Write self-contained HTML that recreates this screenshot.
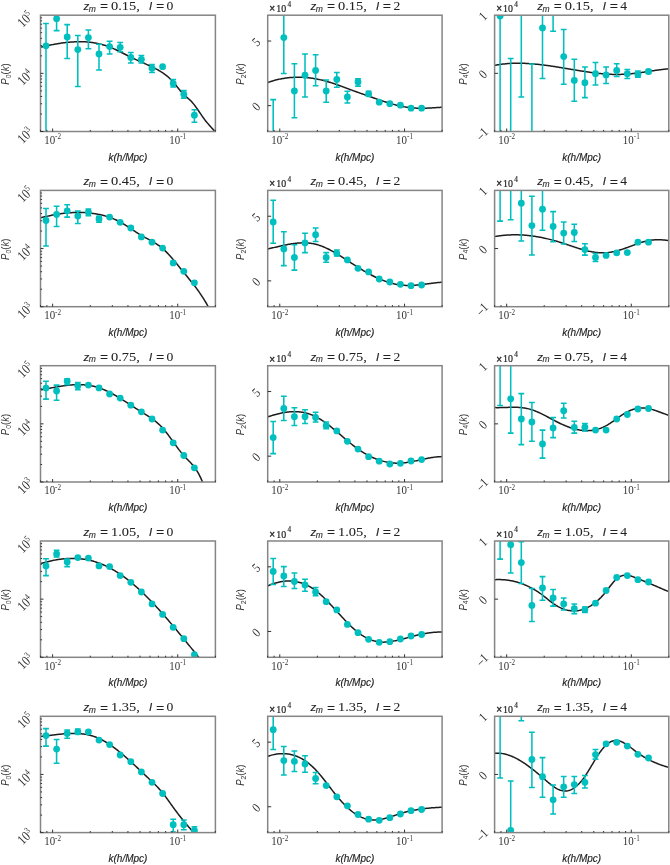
<!DOCTYPE html>
<html><head><meta charset="utf-8"><style>
html,body{margin:0;padding:0;background:#fff;width:670px;height:865px;overflow:hidden}
svg{display:block;will-change:transform;transform:translateZ(0)}
text{-webkit-font-smoothing:antialiased}
.tl{font-family:"Liberation Serif",serif;font-size:13px;fill:#333}
.sup{font-size:8.5px}
.off{font-family:"Liberation Serif",serif;font-size:10.5px;fill:#222;stroke:#222;stroke-width:0.2}
.times{font-family:"Liberation Sans",sans-serif;font-size:10px;fill:#222;stroke:#222;stroke-width:0.3}
.osup{font-family:"Liberation Serif",serif;font-size:7.3px;fill:#222;stroke:#222;stroke-width:0.15}
.tz{font-family:"Liberation Sans",sans-serif;font-style:italic;font-size:11.5px;fill:#222;stroke:#222;stroke-width:0.2}
.tm{font-family:"Liberation Sans",sans-serif;font-style:italic;font-size:8.5px;fill:#333;stroke:#333;stroke-width:0.15}
.teq{font-family:"Liberation Sans",sans-serif;font-size:12.5px;fill:#222;stroke:#222;stroke-width:0.25}
.tn{font-family:"Liberation Serif",serif;font-size:12.5px;fill:#222;stroke:#222;stroke-width:0.04}
.xl{font-family:"Liberation Sans",sans-serif;font-style:italic;font-size:10px;fill:#222;stroke:#222;stroke-width:0.15}
.yl{font-family:"Liberation Sans",sans-serif;font-style:italic;font-size:10.5px;fill:#333}
.ysub{font-size:7.5px;font-style:normal}
.yp{font-style:normal}
</style></head><body>
<svg width="670" height="865" viewBox="0 0 670 865">
<clipPath id="c00"><rect x="40.5" y="15.2" width="174.9" height="116.3"/></clipPath>
<g clip-path="url(#c00)">
<path d="M40.5 47.14 L41.5 46.92 L42.5 46.7 L43.5 46.48 L44.5 46.26 L45.5 46.04 L46.5 45.83 L47.5 45.62 L48.5 45.42 L49.5 45.21 L50.5 45.01 L51.5 44.82 L52.5 44.63 L53.5 44.44 L54.5 44.26 L55.5 44.08 L56.5 43.9 L57.5 43.73 L58.5 43.57 L59.5 43.41 L60.5 43.26 L61.5 43.11 L62.5 42.97 L63.5 42.84 L64.5 42.71 L65.5 42.59 L66.5 42.47 L67.5 42.36 L68.5 42.26 L69.5 42.17 L70.5 42.09 L71.5 42.01 L72.5 41.94 L73.5 41.88 L74.5 41.83 L75.5 41.78 L76.5 41.75 L77.5 41.72 L78.5 41.71 L79.5 41.7 L80.5 41.7 L81.5 41.72 L82.5 41.74 L83.5 41.77 L84.5 41.82 L85.5 41.87 L86.5 41.94 L87.5 42.02 L88.5 42.1 L89.5 42.2 L90.5 42.32 L91.5 42.44 L92.5 42.58 L93.5 42.73 L94.5 42.89 L95.5 43.06 L96.5 43.25 L97.5 43.45 L98.5 43.67 L99.5 43.89 L100.5 44.14 L101.5 44.39 L102.5 44.66 L103.5 44.95 L104.5 45.25 L105.5 45.56 L106.5 45.89 L107.5 46.24 L108.5 46.6 L109.5 46.98 L110.5 47.37 L111.5 47.78 L112.5 48.2 L113.5 48.64 L114.5 49.08 L115.5 49.54 L116.5 50.01 L117.5 50.49 L118.5 50.98 L119.5 51.47 L120.5 51.97 L121.5 52.48 L122.5 52.98 L123.5 53.49 L124.5 54 L125.5 54.51 L126.5 55.02 L127.5 55.53 L128.5 56.03 L129.5 56.53 L130.5 57.03 L131.5 57.51 L132.5 57.99 L133.5 58.47 L134.5 58.94 L135.5 59.4 L136.5 59.86 L137.5 60.32 L138.5 60.77 L139.5 61.22 L140.5 61.67 L141.5 62.12 L142.5 62.57 L143.5 63.02 L144.5 63.47 L145.5 63.92 L146.5 64.37 L147.5 64.83 L148.5 65.29 L149.5 65.75 L150.5 66.21 L151.5 66.69 L152.5 67.16 L153.5 67.64 L154.5 68.14 L155.5 68.64 L156.5 69.15 L157.5 69.68 L158.5 70.23 L159.5 70.8 L160.5 71.4 L161.5 72.02 L162.5 72.67 L163.5 73.35 L164.5 74.06 L165.5 74.81 L166.5 75.59 L167.5 76.42 L168.5 77.29 L169.5 78.21 L170.5 79.18 L171.5 80.2 L172.5 81.27 L173.5 82.39 L174.5 83.57 L175.5 84.78 L176.5 86.02 L177.5 87.26 L178.5 88.51 L179.5 89.74 L180.5 90.94 L181.5 92.09 L182.5 93.2 L183.5 94.23 L184.5 95.2 L185.5 96.11 L186.5 96.98 L187.5 97.84 L188.5 98.71 L189.5 99.61 L190.5 100.55 L191.5 101.57 L192.5 102.68 L193.5 103.87 L194.5 105.15 L195.5 106.48 L196.5 107.87 L197.5 109.3 L198.5 110.76 L199.5 112.23 L200.5 113.7 L201.5 115.17 L202.5 116.61 L203.5 118.01 L204.5 119.37 L205.5 120.67 L206.5 121.93 L207.5 123.14 L208.5 124.31 L209.5 125.46 L210.5 126.58 L211.5 127.68 L212.5 128.78 L213.5 129.87 L214.5 130.97 L215.5 132.07 L216.5 133.19 L217.5 134.34 L218.5 135.51 L219.5 136.72 L220.5 137.97 L221.5 139.28 L222 139.95" fill="none" stroke="#1c1c1c" stroke-width="1.5" stroke-linejoin="round"/>
<path d="M46 23.4 V140 M43.1 23.4 h5.8 M43.1 140 h5.8 M56.6 0 V30.6 M53.7 0 h5.8 M53.7 30.6 h5.8 M67.2 24.6 V58.5 M64.3 24.6 h5.8 M64.3 58.5 h5.8 M77.8 35.4 V86.4 M74.9 35.4 h5.8 M74.9 86.4 h5.8 M88.4 29.9 V48.8 M85.5 29.9 h5.8 M85.5 48.8 h5.8 M99 44.3 V70 M96.1 44.3 h5.8 M96.1 70 h5.8 M109.6 41.3 V54 M106.7 41.3 h5.8 M106.7 54 h5.8 M120.2 42.5 V51.8 M117.3 42.5 h5.8 M117.3 51.8 h5.8 M130.8 52.5 V63 M127.9 52.5 h5.8 M127.9 63 h5.8 M141.4 55.5 V63 M138.5 55.5 h5.8 M138.5 63 h5.8 M152 64.5 V72.4 M149.1 64.5 h5.8 M149.1 72.4 h5.8 M173.2 79.4 V86.9 M170.3 79.4 h5.8 M170.3 86.9 h5.8 M183.8 90.6 V98.1 M180.9 90.6 h5.8 M180.9 98.1 h5.8 M194.4 109.7 V122.2 M191.5 109.7 h5.8 M191.5 122.2 h5.8" stroke="#00bfbf" stroke-width="1.55" fill="none"/>
<g fill="#00bfbf"><circle cx="46" cy="45.8" r="3.4"/><circle cx="56.6" cy="18.7" r="3.4"/><circle cx="67.2" cy="36.9" r="3.4"/><circle cx="77.8" cy="49.6" r="3.4"/><circle cx="88.4" cy="37.6" r="3.4"/><circle cx="99" cy="54" r="3.4"/><circle cx="109.6" cy="46.6" r="3.4"/><circle cx="120.2" cy="47.3" r="3.4"/><circle cx="130.8" cy="57.5" r="3.4"/><circle cx="141.4" cy="59.3" r="3.4"/><circle cx="152" cy="68.2" r="3.4"/><circle cx="162.6" cy="66.7" r="3.4"/><circle cx="173.2" cy="83.4" r="3.4"/><circle cx="183.8" cy="94.3" r="3.4"/><circle cx="194.4" cy="115.2" r="3.4"/></g>
</g>
<rect x="40.5" y="15.2" width="174.9" height="116.3" fill="none" stroke="#858585" stroke-width="1.5"/>
<path d="M40.5 131.5 v-1.6 M46.9 131.5 v-1.6 M52.62 131.5 v-3 M90.29 131.5 v-1.6 M112.32 131.5 v-1.6 M127.95 131.5 v-1.6 M140.07 131.5 v-1.6 M149.98 131.5 v-1.6 M158.36 131.5 v-1.6 M165.61 131.5 v-1.6 M172.01 131.5 v-1.6 M177.74 131.5 v-3 M215.4 131.5 v-1.6 M40.5 131.5 h3 M40.5 114 h1.6 M40.5 103.76 h1.6 M40.5 96.49 h1.6 M40.5 90.85 h1.6 M40.5 86.25 h1.6 M40.5 82.36 h1.6 M40.5 78.99 h1.6 M40.5 76.01 h1.6 M40.5 73.35 h3 M40.5 55.85 h1.6 M40.5 45.61 h1.6 M40.5 38.34 h1.6 M40.5 32.7 h1.6 M40.5 28.1 h1.6 M40.5 24.21 h1.6 M40.5 20.84 h1.6 M40.5 17.86 h1.6" stroke="#333" stroke-width="1" fill="none"/>
<g transform="translate(52.62 143.9) scale(0.84 1)"><text class="tl" x="0" y="0" text-anchor="middle">10<tspan class="sup" dy="-4.5">-2</tspan></text></g>
<g transform="translate(177.74 143.9) scale(0.84 1)"><text class="tl" x="0" y="0" text-anchor="middle">10<tspan class="sup" dy="-4.5">-1</tspan></text></g>
<g transform="translate(25.7 19.8) rotate(-45) scale(0.9 1.06)"><text class="tl" x="0" y="3.5" text-anchor="middle">10<tspan class="sup" dy="-4.5">5</tspan></text></g>
<g transform="translate(25.7 77.95) rotate(-45) scale(0.9 1.06)"><text class="tl" x="0" y="3.5" text-anchor="middle">10<tspan class="sup" dy="-4.5">4</tspan></text></g>
<g transform="translate(25.7 136.1) rotate(-45) scale(0.9 1.06)"><text class="tl" x="0" y="3.5" text-anchor="middle">10<tspan class="sup" dy="-4.5">3</tspan></text></g>
<text class="tz" x="83.55" y="10">z</text>
<text class="tm" x="88.85" y="11.8">m</text>
<text class="teq" x="100.35" y="10.4" textLength="7.6" lengthAdjust="spacingAndGlyphs">=</text>
<text class="tn" x="111.05" y="10" textLength="28.8" lengthAdjust="spacingAndGlyphs">0.15,</text>
<text class="tz" x="149.25" y="10">l</text>
<text class="teq" x="156.15" y="10.4" textLength="7.8" lengthAdjust="spacingAndGlyphs">=</text>
<text class="tn" x="166.55" y="10" textLength="6.8" lengthAdjust="spacingAndGlyphs">0</text>
<text class="xl" x="127.95" y="160.5" text-anchor="middle">k(h/Mpc)</text>
<g transform="translate(9 74.05) rotate(-90)"><text class="yl" x="-10.7" y="0" textLength="21.4" lengthAdjust="spacingAndGlyphs">P<tspan class="ysub" dy="1.8">0</tspan><tspan class="yp" dy="-1.8">(</tspan>k<tspan class="yp">)</tspan></text></g>
<clipPath id="c01"><rect x="267.7" y="15.2" width="174.4" height="116.3"/></clipPath>
<g clip-path="url(#c01)">
<path d="M267.7 82.55 L268.7 82.2 L269.7 81.85 L270.7 81.53 L271.7 81.21 L272.7 80.91 L273.7 80.62 L274.7 80.34 L275.7 80.07 L276.7 79.82 L277.7 79.58 L278.7 79.35 L279.7 79.13 L280.7 78.93 L281.7 78.74 L282.7 78.56 L283.7 78.39 L284.7 78.23 L285.7 78.09 L286.7 77.95 L287.7 77.83 L288.7 77.72 L289.7 77.62 L290.7 77.53 L291.7 77.46 L292.7 77.39 L293.7 77.34 L294.7 77.29 L295.7 77.26 L296.7 77.24 L297.7 77.23 L298.7 77.23 L299.7 77.25 L300.7 77.27 L301.7 77.3 L302.7 77.34 L303.7 77.4 L304.7 77.46 L305.7 77.54 L306.7 77.62 L307.7 77.72 L308.7 77.83 L309.7 77.94 L310.7 78.07 L311.7 78.2 L312.7 78.35 L313.7 78.5 L314.7 78.67 L315.7 78.84 L316.7 79.03 L317.7 79.22 L318.7 79.43 L319.7 79.64 L320.7 79.86 L321.7 80.1 L322.7 80.34 L323.7 80.59 L324.7 80.85 L325.7 81.11 L326.7 81.39 L327.7 81.68 L328.7 81.97 L329.7 82.28 L330.7 82.59 L331.7 82.91 L332.7 83.23 L333.7 83.56 L334.7 83.9 L335.7 84.25 L336.7 84.59 L337.7 84.95 L338.7 85.31 L339.7 85.67 L340.7 86.03 L341.7 86.4 L342.7 86.77 L343.7 87.14 L344.7 87.51 L345.7 87.88 L346.7 88.26 L347.7 88.63 L348.7 89 L349.7 89.38 L350.7 89.75 L351.7 90.12 L352.7 90.48 L353.7 90.85 L354.7 91.21 L355.7 91.57 L356.7 91.93 L357.7 92.28 L358.7 92.64 L359.7 92.99 L360.7 93.35 L361.7 93.7 L362.7 94.05 L363.7 94.41 L364.7 94.76 L365.7 95.11 L366.7 95.46 L367.7 95.82 L368.7 96.17 L369.7 96.52 L370.7 96.88 L371.7 97.23 L372.7 97.58 L373.7 97.94 L374.7 98.29 L375.7 98.64 L376.7 98.99 L377.7 99.34 L378.7 99.68 L379.7 100.02 L380.7 100.36 L381.7 100.7 L382.7 101.03 L383.7 101.36 L384.7 101.69 L385.7 102.01 L386.7 102.32 L387.7 102.63 L388.7 102.94 L389.7 103.24 L390.7 103.53 L391.7 103.82 L392.7 104.1 L393.7 104.38 L394.7 104.65 L395.7 104.91 L396.7 105.16 L397.7 105.41 L398.7 105.64 L399.7 105.87 L400.7 106.09 L401.7 106.3 L402.7 106.5 L403.7 106.69 L404.7 106.87 L405.7 107.04 L406.7 107.19 L407.7 107.34 L408.7 107.48 L409.7 107.6 L410.7 107.71 L411.7 107.81 L412.7 107.9 L413.7 107.98 L414.7 108.04 L415.7 108.1 L416.7 108.14 L417.7 108.18 L418.7 108.2 L419.7 108.22 L420.7 108.23 L421.7 108.23 L422.7 108.22 L423.7 108.21 L424.7 108.19 L425.7 108.16 L426.7 108.13 L427.7 108.09 L428.7 108.05 L429.7 108 L430.7 107.95 L431.7 107.9 L432.7 107.84 L433.7 107.78 L434.7 107.72 L435.7 107.66 L436.7 107.59 L437.7 107.53 L438.7 107.46 L439.7 107.39 L440.7 107.33 L441.7 107.26 L442.7 107.2 L443.7 107.14 L444.7 107.08 L445.7 107.02 L446.7 106.97 L447.7 106.92 L448.7 106.87 L449.7 106.83 L450 106.82" fill="none" stroke="#1c1c1c" stroke-width="1.5" stroke-linejoin="round"/>
<path d="M273.2 99.6 V200 M270.3 99.6 h5.8 M270.3 200 h5.8 M283.8 0 V73.4 M280.9 0 h5.8 M280.9 73.4 h5.8 M294.4 63.7 V117.8 M291.5 63.7 h5.8 M291.5 117.8 h5.8 M305 54 V96.9 M302.1 54 h5.8 M302.1 96.9 h5.8 M315.6 54.8 V85.8 M312.7 54.8 h5.8 M312.7 85.8 h5.8 M326.2 79.9 V102.2 M323.3 79.9 h5.8 M323.3 102.2 h5.8 M336.8 72.4 V87.3 M333.9 72.4 h5.8 M333.9 87.3 h5.8 M347.4 91.3 V103 M344.5 91.3 h5.8 M344.5 103 h5.8 M358 78.7 V86.1 M355.1 78.7 h5.8 M355.1 86.1 h5.8 M368.6 91.3 V96.3 M365.7 91.3 h5.8 M365.7 96.3 h5.8" stroke="#00bfbf" stroke-width="1.55" fill="none"/>
<g fill="#00bfbf"><circle cx="273.2" cy="140" r="3.4"/><circle cx="283.8" cy="37.6" r="3.4"/><circle cx="294.4" cy="90.9" r="3.4"/><circle cx="305" cy="75.2" r="3.4"/><circle cx="315.6" cy="70.4" r="3.4"/><circle cx="326.2" cy="91" r="3.4"/><circle cx="336.8" cy="79.4" r="3.4"/><circle cx="347.4" cy="97" r="3.4"/><circle cx="358" cy="81.9" r="3.4"/><circle cx="368.6" cy="93.9" r="3.4"/><circle cx="379.2" cy="102.2" r="3.4"/><circle cx="389.8" cy="103.7" r="3.4"/><circle cx="400.4" cy="105.2" r="3.4"/><circle cx="411" cy="108.2" r="3.4"/><circle cx="421.6" cy="108.2" r="3.4"/></g>
</g>
<rect x="267.7" y="15.2" width="174.4" height="116.3" fill="none" stroke="#858585" stroke-width="1.5"/>
<path d="M267.7 131.5 v-1.6 M274.08 131.5 v-1.6 M279.79 131.5 v-3 M317.35 131.5 v-1.6 M339.31 131.5 v-1.6 M354.9 131.5 v-1.6 M366.99 131.5 v-1.6 M376.87 131.5 v-1.6 M385.22 131.5 v-1.6 M392.45 131.5 v-1.6 M398.84 131.5 v-1.6 M404.55 131.5 v-3 M442.1 131.5 v-1.6 M267.7 105.66 h3.5 M267.7 41.04 h3.5" stroke="#333" stroke-width="1" fill="none"/>
<g transform="translate(279.79 143.9) scale(0.84 1)"><text class="tl" x="0" y="0" text-anchor="middle">10<tspan class="sup" dy="-4.5">-2</tspan></text></g>
<g transform="translate(404.55 143.9) scale(0.84 1)"><text class="tl" x="0" y="0" text-anchor="middle">10<tspan class="sup" dy="-4.5">-1</tspan></text></g>
<g transform="translate(256.7 107.16) rotate(-45) scale(0.85 1)"><text class="tl" x="0" y="3.5" text-anchor="middle">0</text></g>
<g transform="translate(256.7 42.54) rotate(-45) scale(0.85 1)"><text class="tl" x="0" y="3.5" text-anchor="middle">5</text></g>
<text class="times" x="269.3" y="12.1">&#215;</text><text class="off" x="276.2" y="11.7" textLength="9.9" lengthAdjust="spacingAndGlyphs">10</text><text class="osup" x="287.4" y="6.6">4</text>
<text class="tz" x="310.5" y="10">z</text>
<text class="tm" x="315.8" y="11.8">m</text>
<text class="teq" x="327.3" y="10.4" textLength="7.6" lengthAdjust="spacingAndGlyphs">=</text>
<text class="tn" x="338" y="10" textLength="28.8" lengthAdjust="spacingAndGlyphs">0.15,</text>
<text class="tz" x="376.2" y="10">l</text>
<text class="teq" x="383.1" y="10.4" textLength="7.8" lengthAdjust="spacingAndGlyphs">=</text>
<text class="tn" x="393.5" y="10" textLength="6.8" lengthAdjust="spacingAndGlyphs">2</text>
<text class="xl" x="354.9" y="160.5" text-anchor="middle">k(h/Mpc)</text>
<g transform="translate(243.8 74.05) rotate(-90)"><text class="yl" x="-10.7" y="0" textLength="21.4" lengthAdjust="spacingAndGlyphs">P<tspan class="ysub" dy="1.8">2</tspan><tspan class="yp" dy="-1.8">(</tspan>k<tspan class="yp">)</tspan></text></g>
<clipPath id="c02"><rect x="494.6" y="15.2" width="174.2" height="116.3"/></clipPath>
<g clip-path="url(#c02)">
<path d="M494.7 65.34 L495.7 65.15 L496.7 64.97 L497.7 64.81 L498.7 64.65 L499.7 64.5 L500.7 64.36 L501.7 64.23 L502.7 64.1 L503.7 63.99 L504.7 63.88 L505.7 63.79 L506.7 63.7 L507.7 63.62 L508.7 63.54 L509.7 63.48 L510.7 63.42 L511.7 63.37 L512.7 63.33 L513.7 63.29 L514.7 63.27 L515.7 63.25 L516.7 63.23 L517.7 63.23 L518.7 63.23 L519.7 63.24 L520.7 63.25 L521.7 63.27 L522.7 63.29 L523.7 63.33 L524.7 63.36 L525.7 63.41 L526.7 63.46 L527.7 63.51 L528.7 63.57 L529.7 63.64 L530.7 63.71 L531.7 63.78 L532.7 63.86 L533.7 63.95 L534.7 64.04 L535.7 64.13 L536.7 64.23 L537.7 64.34 L538.7 64.44 L539.7 64.55 L540.7 64.67 L541.7 64.79 L542.7 64.91 L543.7 65.04 L544.7 65.16 L545.7 65.3 L546.7 65.43 L547.7 65.57 L548.7 65.71 L549.7 65.85 L550.7 66 L551.7 66.15 L552.7 66.3 L553.7 66.45 L554.7 66.61 L555.7 66.76 L556.7 66.92 L557.7 67.08 L558.7 67.24 L559.7 67.4 L560.7 67.57 L561.7 67.73 L562.7 67.9 L563.7 68.07 L564.7 68.23 L565.7 68.4 L566.7 68.57 L567.7 68.74 L568.7 68.91 L569.7 69.08 L570.7 69.24 L571.7 69.41 L572.7 69.58 L573.7 69.75 L574.7 69.91 L575.7 70.08 L576.7 70.25 L577.7 70.41 L578.7 70.57 L579.7 70.73 L580.7 70.89 L581.7 71.05 L582.7 71.21 L583.7 71.36 L584.7 71.52 L585.7 71.67 L586.7 71.82 L587.7 71.96 L588.7 72.11 L589.7 72.25 L590.7 72.39 L591.7 72.52 L592.7 72.66 L593.7 72.79 L594.7 72.91 L595.7 73.03 L596.7 73.15 L597.7 73.27 L598.7 73.38 L599.7 73.49 L600.7 73.59 L601.7 73.69 L602.7 73.78 L603.7 73.87 L604.7 73.95 L605.7 74.03 L606.7 74.1 L607.7 74.17 L608.7 74.23 L609.7 74.28 L610.7 74.33 L611.7 74.37 L612.7 74.4 L613.7 74.43 L614.7 74.45 L615.7 74.46 L616.7 74.46 L617.7 74.46 L618.7 74.45 L619.7 74.43 L620.7 74.4 L621.7 74.37 L622.7 74.33 L623.7 74.28 L624.7 74.22 L625.7 74.16 L626.7 74.09 L627.7 74.02 L628.7 73.94 L629.7 73.85 L630.7 73.76 L631.7 73.67 L632.7 73.56 L633.7 73.46 L634.7 73.35 L635.7 73.23 L636.7 73.11 L637.7 72.98 L638.7 72.85 L639.7 72.72 L640.7 72.58 L641.7 72.44 L642.7 72.3 L643.7 72.15 L644.7 72 L645.7 71.85 L646.7 71.7 L647.7 71.55 L648.7 71.4 L649.7 71.25 L650.7 71.1 L651.7 70.95 L652.7 70.8 L653.7 70.65 L654.7 70.5 L655.7 70.36 L656.7 70.22 L657.7 70.08 L658.7 69.94 L659.7 69.81 L660.7 69.68 L661.7 69.56 L662.7 69.44 L663.7 69.33 L664.7 69.22 L665.7 69.12 L666.7 69.03 L667.7 68.94 L668.7 68.86 L669.7 68.79 L670.7 68.72 L671.7 68.67 L672.7 68.62 L673.7 68.58 L674.7 68.55 L675 68.55" fill="none" stroke="#1c1c1c" stroke-width="1.5" stroke-linejoin="round"/>
<path d="M500.1 -50 V200 M497.2 -50 h5.8 M497.2 200 h5.8 M510.7 58.5 V250 M507.8 58.5 h5.8 M507.8 250 h5.8 M521.3 -60 V96.9 M518.4 -60 h5.8 M518.4 96.9 h5.8 M531.9 64 V250 M529 64 h5.8 M529 250 h5.8 M542.5 -20 V78.4 M539.6 -20 h5.8 M539.6 78.4 h5.8 M553.1 -60 V31.3 M550.2 -60 h5.8 M550.2 31.3 h5.8 M563.7 29.4 V84.2 M560.8 29.4 h5.8 M560.8 84.2 h5.8 M574.3 59.3 V101.3 M571.4 59.3 h5.8 M571.4 101.3 h5.8 M584.9 67 V97.6 M582 67 h5.8 M582 97.6 h5.8 M595.5 62.5 V84.9 M592.6 62.5 h5.8 M592.6 84.9 h5.8 M606.1 67 V83.4 M603.2 67 h5.8 M603.2 83.4 h5.8 M616.7 63.7 V76.4 M613.8 63.7 h5.8 M613.8 76.4 h5.8 M627.3 69.4 V78.4 M624.4 69.4 h5.8 M624.4 78.4 h5.8 M637.9 70.9 V77.2 M635 70.9 h5.8 M635 77.2 h5.8 M648.5 69.7 V73.4 M645.6 69.7 h5.8 M645.6 73.4 h5.8" stroke="#00bfbf" stroke-width="1.55" fill="none"/>
<g fill="#00bfbf"><circle cx="500.1" cy="16" r="3.4"/><circle cx="510.7" cy="140" r="3.4"/><circle cx="521.3" cy="-10" r="3.4"/><circle cx="531.9" cy="140" r="3.4"/><circle cx="542.5" cy="27.9" r="3.4"/><circle cx="553.1" cy="-10" r="3.4"/><circle cx="563.7" cy="56.6" r="3.4"/><circle cx="574.3" cy="80.4" r="3.4"/><circle cx="584.9" cy="82.7" r="3.4"/><circle cx="595.5" cy="73.7" r="3.4"/><circle cx="606.1" cy="74.9" r="3.4"/><circle cx="616.7" cy="70.4" r="3.4"/><circle cx="627.3" cy="73.7" r="3.4"/><circle cx="637.9" cy="74.5" r="3.4"/><circle cx="648.5" cy="71.5" r="3.4"/></g>
</g>
<rect x="494.6" y="15.2" width="174.2" height="116.3" fill="none" stroke="#858585" stroke-width="1.5"/>
<path d="M494.6 131.5 v-1.6 M500.97 131.5 v-1.6 M506.68 131.5 v-3 M544.19 131.5 v-1.6 M566.13 131.5 v-1.6 M581.7 131.5 v-1.6 M593.78 131.5 v-1.6 M603.64 131.5 v-1.6 M611.99 131.5 v-1.6 M619.21 131.5 v-1.6 M625.59 131.5 v-1.6 M631.29 131.5 v-3 M668.8 131.5 v-1.6 M494.6 73.35 h3.5" stroke="#333" stroke-width="1" fill="none"/>
<g transform="translate(506.68 143.9) scale(0.84 1)"><text class="tl" x="0" y="0" text-anchor="middle">10<tspan class="sup" dy="-4.5">-2</tspan></text></g>
<g transform="translate(631.29 143.9) scale(0.84 1)"><text class="tl" x="0" y="0" text-anchor="middle">10<tspan class="sup" dy="-4.5">-1</tspan></text></g>
<g transform="translate(483.6 16.7) rotate(-45) scale(0.85 1)"><text class="tl" x="0" y="3.5" text-anchor="middle">1</text></g>
<g transform="translate(483.6 74.85) rotate(-45) scale(0.85 1)"><text class="tl" x="0" y="3.5" text-anchor="middle">0</text></g>
<g transform="translate(482.4 134.4) rotate(-45) scale(0.85 1)"><text class="tl" x="0" y="3.5" text-anchor="middle">&#8211;1</text></g>
<text class="times" x="496.2" y="12.1">&#215;</text><text class="off" x="503.1" y="11.7" textLength="9.9" lengthAdjust="spacingAndGlyphs">10</text><text class="osup" x="514.3" y="6.6">4</text>
<text class="tz" x="537.3" y="10">z</text>
<text class="tm" x="542.6" y="11.8">m</text>
<text class="teq" x="554.1" y="10.4" textLength="7.6" lengthAdjust="spacingAndGlyphs">=</text>
<text class="tn" x="564.8" y="10" textLength="28.8" lengthAdjust="spacingAndGlyphs">0.15,</text>
<text class="tz" x="603" y="10">l</text>
<text class="teq" x="609.9" y="10.4" textLength="7.8" lengthAdjust="spacingAndGlyphs">=</text>
<text class="tn" x="620.3" y="10" textLength="6.8" lengthAdjust="spacingAndGlyphs">4</text>
<text class="xl" x="581.7" y="160.5" text-anchor="middle">k(h/Mpc)</text>
<g transform="translate(466.6 74.05) rotate(-90)"><text class="yl" x="-10.7" y="0" textLength="21.4" lengthAdjust="spacingAndGlyphs">P<tspan class="ysub" dy="1.8">4</tspan><tspan class="yp" dy="-1.8">(</tspan>k<tspan class="yp">)</tspan></text></g>
<clipPath id="c10"><rect x="40.5" y="190.4" width="174.9" height="116.3"/></clipPath>
<g clip-path="url(#c10)">
<path d="M40.7 217.83 L41.7 217.57 L42.7 217.32 L43.7 217.07 L44.7 216.83 L45.7 216.59 L46.7 216.36 L47.7 216.14 L48.7 215.91 L49.7 215.7 L50.7 215.49 L51.7 215.29 L52.7 215.09 L53.7 214.9 L54.7 214.72 L55.7 214.54 L56.7 214.37 L57.7 214.2 L58.7 214.05 L59.7 213.89 L60.7 213.75 L61.7 213.61 L62.7 213.48 L63.7 213.36 L64.7 213.24 L65.7 213.14 L66.7 213.03 L67.7 212.94 L68.7 212.86 L69.7 212.78 L70.7 212.71 L71.7 212.65 L72.7 212.59 L73.7 212.55 L74.7 212.51 L75.7 212.48 L76.7 212.46 L77.7 212.45 L78.7 212.45 L79.7 212.46 L80.7 212.47 L81.7 212.5 L82.7 212.53 L83.7 212.57 L84.7 212.62 L85.7 212.69 L86.7 212.76 L87.7 212.84 L88.7 212.93 L89.7 213.03 L90.7 213.14 L91.7 213.26 L92.7 213.39 L93.7 213.53 L94.7 213.68 L95.7 213.85 L96.7 214.02 L97.7 214.2 L98.7 214.4 L99.7 214.6 L100.7 214.82 L101.7 215.05 L102.7 215.29 L103.7 215.54 L104.7 215.81 L105.7 216.1 L106.7 216.39 L107.7 216.7 L108.7 217.03 L109.7 217.37 L110.7 217.73 L111.7 218.11 L112.7 218.5 L113.7 218.91 L114.7 219.34 L115.7 219.79 L116.7 220.26 L117.7 220.74 L118.7 221.25 L119.7 221.77 L120.7 222.32 L121.7 222.89 L122.7 223.47 L123.7 224.07 L124.7 224.69 L125.7 225.32 L126.7 225.95 L127.7 226.6 L128.7 227.26 L129.7 227.92 L130.7 228.58 L131.7 229.25 L132.7 229.92 L133.7 230.58 L134.7 231.24 L135.7 231.9 L136.7 232.55 L137.7 233.19 L138.7 233.81 L139.7 234.43 L140.7 235.03 L141.7 235.62 L142.7 236.19 L143.7 236.75 L144.7 237.29 L145.7 237.83 L146.7 238.37 L147.7 238.9 L148.7 239.44 L149.7 239.97 L150.7 240.52 L151.7 241.07 L152.7 241.64 L153.7 242.22 L154.7 242.82 L155.7 243.44 L156.7 244.09 L157.7 244.76 L158.7 245.45 L159.7 246.19 L160.7 246.95 L161.7 247.75 L162.7 248.6 L163.7 249.48 L164.7 250.41 L165.7 251.37 L166.7 252.36 L167.7 253.39 L168.7 254.45 L169.7 255.54 L170.7 256.65 L171.7 257.79 L172.7 258.95 L173.7 260.12 L174.7 261.31 L175.7 262.52 L176.7 263.73 L177.7 264.96 L178.7 266.19 L179.7 267.43 L180.7 268.67 L181.7 269.91 L182.7 271.14 L183.7 272.37 L184.7 273.6 L185.7 274.82 L186.7 276.03 L187.7 277.25 L188.7 278.47 L189.7 279.69 L190.7 280.93 L191.7 282.17 L192.7 283.43 L193.7 284.7 L194.7 286 L195.7 287.31 L196.7 288.65 L197.7 290.02 L198.7 291.41 L199.7 292.84 L200.7 294.31 L201.7 295.81 L202.7 297.35 L203.7 298.94 L204.7 300.57 L205.7 302.25 L206.7 303.98 L207.7 305.77 L208.7 307.61 L209.7 309.51 L210.7 311.48 L211.7 313.51 L212 314.13" fill="none" stroke="#1c1c1c" stroke-width="1.5" stroke-linejoin="round"/>
<path d="M46 208.4 V245.9 M43.1 208.4 h5.8 M43.1 245.9 h5.8 M56.6 206.2 V226.5 M53.7 206.2 h5.8 M53.7 226.5 h5.8 M67.2 204.7 V217.1 M64.3 204.7 h5.8 M64.3 217.1 h5.8 M77.8 211.1 V223.5 M74.9 211.1 h5.8 M74.9 223.5 h5.8 M88.4 208.9 V215.6 M85.5 208.9 h5.8 M85.5 215.6 h5.8 M99 216.3 V222.3 M96.1 216.3 h5.8 M96.1 222.3 h5.8" stroke="#00bfbf" stroke-width="1.55" fill="none"/>
<g fill="#00bfbf"><circle cx="46" cy="220.5" r="3.4"/><circle cx="56.6" cy="214.4" r="3.4"/><circle cx="67.2" cy="210.8" r="3.4"/><circle cx="77.8" cy="216" r="3.4"/><circle cx="88.4" cy="212.2" r="3.4"/><circle cx="99" cy="219" r="3.4"/><circle cx="109.6" cy="217.1" r="3.4"/><circle cx="120.2" cy="222.3" r="3.4"/><circle cx="130.8" cy="228" r="3.4"/><circle cx="141.4" cy="236.9" r="3.4"/><circle cx="152" cy="242.2" r="3.4"/><circle cx="162.6" cy="248.1" r="3.4"/><circle cx="173.2" cy="262.9" r="3.4"/><circle cx="183.8" cy="271.3" r="3.4"/><circle cx="194.4" cy="282.8" r="3.4"/></g>
</g>
<rect x="40.5" y="190.4" width="174.9" height="116.3" fill="none" stroke="#858585" stroke-width="1.5"/>
<path d="M40.5 306.7 v-1.6 M46.9 306.7 v-1.6 M52.62 306.7 v-3 M90.29 306.7 v-1.6 M112.32 306.7 v-1.6 M127.95 306.7 v-1.6 M140.07 306.7 v-1.6 M149.98 306.7 v-1.6 M158.36 306.7 v-1.6 M165.61 306.7 v-1.6 M172.01 306.7 v-1.6 M177.74 306.7 v-3 M215.4 306.7 v-1.6 M40.5 306.7 h3 M40.5 289.2 h1.6 M40.5 278.96 h1.6 M40.5 271.69 h1.6 M40.5 266.05 h1.6 M40.5 261.45 h1.6 M40.5 257.56 h1.6 M40.5 254.19 h1.6 M40.5 251.21 h1.6 M40.5 248.55 h3 M40.5 231.05 h1.6 M40.5 220.81 h1.6 M40.5 213.54 h1.6 M40.5 207.9 h1.6 M40.5 203.3 h1.6 M40.5 199.41 h1.6 M40.5 196.04 h1.6 M40.5 193.06 h1.6" stroke="#333" stroke-width="1" fill="none"/>
<g transform="translate(52.62 319.1) scale(0.84 1)"><text class="tl" x="0" y="0" text-anchor="middle">10<tspan class="sup" dy="-4.5">-2</tspan></text></g>
<g transform="translate(177.74 319.1) scale(0.84 1)"><text class="tl" x="0" y="0" text-anchor="middle">10<tspan class="sup" dy="-4.5">-1</tspan></text></g>
<g transform="translate(25.7 195) rotate(-45) scale(0.9 1.06)"><text class="tl" x="0" y="3.5" text-anchor="middle">10<tspan class="sup" dy="-4.5">5</tspan></text></g>
<g transform="translate(25.7 253.15) rotate(-45) scale(0.9 1.06)"><text class="tl" x="0" y="3.5" text-anchor="middle">10<tspan class="sup" dy="-4.5">4</tspan></text></g>
<g transform="translate(25.7 311.3) rotate(-45) scale(0.9 1.06)"><text class="tl" x="0" y="3.5" text-anchor="middle">10<tspan class="sup" dy="-4.5">3</tspan></text></g>
<text class="tz" x="83.55" y="185.2">z</text>
<text class="tm" x="88.85" y="187">m</text>
<text class="teq" x="100.35" y="185.6" textLength="7.6" lengthAdjust="spacingAndGlyphs">=</text>
<text class="tn" x="111.05" y="185.2" textLength="28.8" lengthAdjust="spacingAndGlyphs">0.45,</text>
<text class="tz" x="149.25" y="185.2">l</text>
<text class="teq" x="156.15" y="185.6" textLength="7.8" lengthAdjust="spacingAndGlyphs">=</text>
<text class="tn" x="166.55" y="185.2" textLength="6.8" lengthAdjust="spacingAndGlyphs">0</text>
<text class="xl" x="127.95" y="335.7" text-anchor="middle">k(h/Mpc)</text>
<g transform="translate(9 249.25) rotate(-90)"><text class="yl" x="-10.7" y="0" textLength="21.4" lengthAdjust="spacingAndGlyphs">P<tspan class="ysub" dy="1.8">0</tspan><tspan class="yp" dy="-1.8">(</tspan>k<tspan class="yp">)</tspan></text></g>
<clipPath id="c11"><rect x="267.7" y="190.4" width="174.4" height="116.3"/></clipPath>
<g clip-path="url(#c11)">
<path d="M267.7 249 L268.7 248.77 L269.7 248.55 L270.7 248.32 L271.7 248.09 L272.7 247.85 L273.7 247.62 L274.7 247.38 L275.7 247.15 L276.7 246.91 L277.7 246.67 L278.7 246.44 L279.7 246.21 L280.7 245.98 L281.7 245.76 L282.7 245.53 L283.7 245.32 L284.7 245.1 L285.7 244.9 L286.7 244.7 L287.7 244.51 L288.7 244.32 L289.7 244.14 L290.7 243.97 L291.7 243.81 L292.7 243.66 L293.7 243.52 L294.7 243.39 L295.7 243.28 L296.7 243.17 L297.7 243.08 L298.7 243 L299.7 242.93 L300.7 242.88 L301.7 242.85 L302.7 242.83 L303.7 242.83 L304.7 242.84 L305.7 242.87 L306.7 242.92 L307.7 242.99 L308.7 243.07 L309.7 243.18 L310.7 243.31 L311.7 243.45 L312.7 243.62 L313.7 243.82 L314.7 244.03 L315.7 244.27 L316.7 244.53 L317.7 244.82 L318.7 245.12 L319.7 245.45 L320.7 245.8 L321.7 246.17 L322.7 246.57 L323.7 246.98 L324.7 247.4 L325.7 247.85 L326.7 248.31 L327.7 248.79 L328.7 249.28 L329.7 249.79 L330.7 250.31 L331.7 250.85 L332.7 251.4 L333.7 251.96 L334.7 252.53 L335.7 253.11 L336.7 253.7 L337.7 254.31 L338.7 254.91 L339.7 255.53 L340.7 256.16 L341.7 256.78 L342.7 257.42 L343.7 258.06 L344.7 258.7 L345.7 259.35 L346.7 260 L347.7 260.65 L348.7 261.31 L349.7 261.96 L350.7 262.61 L351.7 263.27 L352.7 263.92 L353.7 264.56 L354.7 265.21 L355.7 265.85 L356.7 266.49 L357.7 267.12 L358.7 267.75 L359.7 268.37 L360.7 268.98 L361.7 269.59 L362.7 270.18 L363.7 270.78 L364.7 271.36 L365.7 271.94 L366.7 272.51 L367.7 273.07 L368.7 273.62 L369.7 274.16 L370.7 274.69 L371.7 275.21 L372.7 275.73 L373.7 276.23 L374.7 276.72 L375.7 277.21 L376.7 277.68 L377.7 278.14 L378.7 278.59 L379.7 279.02 L380.7 279.45 L381.7 279.86 L382.7 280.26 L383.7 280.65 L384.7 281.02 L385.7 281.38 L386.7 281.73 L387.7 282.06 L388.7 282.38 L389.7 282.69 L390.7 282.98 L391.7 283.25 L392.7 283.51 L393.7 283.75 L394.7 283.98 L395.7 284.19 L396.7 284.39 L397.7 284.57 L398.7 284.73 L399.7 284.87 L400.7 285 L401.7 285.11 L402.7 285.2 L403.7 285.27 L404.7 285.33 L405.7 285.38 L406.7 285.41 L407.7 285.43 L408.7 285.43 L409.7 285.42 L410.7 285.4 L411.7 285.37 L412.7 285.33 L413.7 285.27 L414.7 285.21 L415.7 285.14 L416.7 285.06 L417.7 284.97 L418.7 284.88 L419.7 284.78 L420.7 284.67 L421.7 284.56 L422.7 284.45 L423.7 284.33 L424.7 284.21 L425.7 284.08 L426.7 283.96 L427.7 283.83 L428.7 283.7 L429.7 283.57 L430.7 283.44 L431.7 283.32 L432.7 283.19 L433.7 283.07 L434.7 282.95 L435.7 282.83 L436.7 282.72 L437.7 282.62 L438.7 282.52 L439.7 282.42 L440.7 282.33 L441.7 282.25 L442.7 282.18 L443.7 282.12 L444.7 282.06 L445.7 282.02 L446.7 281.99 L447.7 281.96 L448.7 281.95 L449.7 281.95 L450 281.96" fill="none" stroke="#1c1c1c" stroke-width="1.5" stroke-linejoin="round"/>
<path d="M273.2 200.2 V243.2 M270.3 200.2 h5.8 M270.3 243.2 h5.8 M283.8 231.7 V265.6 M280.9 231.7 h5.8 M280.9 265.6 h5.8 M294.4 244.7 V270.1 M291.5 244.7 h5.8 M291.5 270.1 h5.8 M305 233.2 V252.6 M302.1 233.2 h5.8 M302.1 252.6 h5.8 M315.6 228 V241.4 M312.7 228 h5.8 M312.7 241.4 h5.8 M326.2 252.6 V262.3 M323.3 252.6 h5.8 M323.3 262.3 h5.8 M336.8 249.9 V255.9 M333.9 249.9 h5.8 M333.9 255.9 h5.8" stroke="#00bfbf" stroke-width="1.55" fill="none"/>
<g fill="#00bfbf"><circle cx="273.2" cy="222" r="3.4"/><circle cx="283.8" cy="248.9" r="3.4"/><circle cx="294.4" cy="257.4" r="3.4"/><circle cx="305" cy="242.9" r="3.4"/><circle cx="315.6" cy="234.7" r="3.4"/><circle cx="326.2" cy="257.4" r="3.4"/><circle cx="336.8" cy="253.4" r="3.4"/><circle cx="347.4" cy="259.9" r="3.4"/><circle cx="358" cy="268.3" r="3.4"/><circle cx="368.6" cy="271.9" r="3.4"/><circle cx="379.2" cy="279" r="3.4"/><circle cx="389.8" cy="282" r="3.4"/><circle cx="400.4" cy="284.3" r="3.4"/><circle cx="411" cy="285.7" r="3.4"/><circle cx="421.6" cy="285" r="3.4"/></g>
</g>
<rect x="267.7" y="190.4" width="174.4" height="116.3" fill="none" stroke="#858585" stroke-width="1.5"/>
<path d="M267.7 306.7 v-1.6 M274.08 306.7 v-1.6 M279.79 306.7 v-3 M317.35 306.7 v-1.6 M339.31 306.7 v-1.6 M354.9 306.7 v-1.6 M366.99 306.7 v-1.6 M376.87 306.7 v-1.6 M385.22 306.7 v-1.6 M392.45 306.7 v-1.6 M398.84 306.7 v-1.6 M404.55 306.7 v-3 M442.1 306.7 v-1.6 M267.7 280.86 h3.5 M267.7 216.24 h3.5" stroke="#333" stroke-width="1" fill="none"/>
<g transform="translate(279.79 319.1) scale(0.84 1)"><text class="tl" x="0" y="0" text-anchor="middle">10<tspan class="sup" dy="-4.5">-2</tspan></text></g>
<g transform="translate(404.55 319.1) scale(0.84 1)"><text class="tl" x="0" y="0" text-anchor="middle">10<tspan class="sup" dy="-4.5">-1</tspan></text></g>
<g transform="translate(256.7 282.36) rotate(-45) scale(0.85 1)"><text class="tl" x="0" y="3.5" text-anchor="middle">0</text></g>
<g transform="translate(256.7 217.74) rotate(-45) scale(0.85 1)"><text class="tl" x="0" y="3.5" text-anchor="middle">5</text></g>
<text class="times" x="269.3" y="187.3">&#215;</text><text class="off" x="276.2" y="186.9" textLength="9.9" lengthAdjust="spacingAndGlyphs">10</text><text class="osup" x="287.4" y="181.8">4</text>
<text class="tz" x="310.5" y="185.2">z</text>
<text class="tm" x="315.8" y="187">m</text>
<text class="teq" x="327.3" y="185.6" textLength="7.6" lengthAdjust="spacingAndGlyphs">=</text>
<text class="tn" x="338" y="185.2" textLength="28.8" lengthAdjust="spacingAndGlyphs">0.45,</text>
<text class="tz" x="376.2" y="185.2">l</text>
<text class="teq" x="383.1" y="185.6" textLength="7.8" lengthAdjust="spacingAndGlyphs">=</text>
<text class="tn" x="393.5" y="185.2" textLength="6.8" lengthAdjust="spacingAndGlyphs">2</text>
<text class="xl" x="354.9" y="335.7" text-anchor="middle">k(h/Mpc)</text>
<g transform="translate(243.8 249.25) rotate(-90)"><text class="yl" x="-10.7" y="0" textLength="21.4" lengthAdjust="spacingAndGlyphs">P<tspan class="ysub" dy="1.8">2</tspan><tspan class="yp" dy="-1.8">(</tspan>k<tspan class="yp">)</tspan></text></g>
<clipPath id="c12"><rect x="494.6" y="190.4" width="174.2" height="116.3"/></clipPath>
<g clip-path="url(#c12)">
<path d="M494.7 236.54 L495.7 236.37 L496.7 236.21 L497.7 236.06 L498.7 235.92 L499.7 235.78 L500.7 235.66 L501.7 235.54 L502.7 235.44 L503.7 235.34 L504.7 235.25 L505.7 235.17 L506.7 235.09 L507.7 235.03 L508.7 234.97 L509.7 234.93 L510.7 234.89 L511.7 234.86 L512.7 234.84 L513.7 234.82 L514.7 234.82 L515.7 234.82 L516.7 234.83 L517.7 234.85 L518.7 234.87 L519.7 234.91 L520.7 234.95 L521.7 235 L522.7 235.06 L523.7 235.12 L524.7 235.19 L525.7 235.28 L526.7 235.36 L527.7 235.46 L528.7 235.56 L529.7 235.67 L530.7 235.79 L531.7 235.91 L532.7 236.05 L533.7 236.19 L534.7 236.33 L535.7 236.49 L536.7 236.65 L537.7 236.82 L538.7 236.99 L539.7 237.17 L540.7 237.36 L541.7 237.56 L542.7 237.76 L543.7 237.97 L544.7 238.18 L545.7 238.41 L546.7 238.63 L547.7 238.87 L548.7 239.11 L549.7 239.36 L550.7 239.61 L551.7 239.87 L552.7 240.14 L553.7 240.41 L554.7 240.69 L555.7 240.98 L556.7 241.27 L557.7 241.57 L558.7 241.87 L559.7 242.18 L560.7 242.49 L561.7 242.81 L562.7 243.14 L563.7 243.47 L564.7 243.8 L565.7 244.13 L566.7 244.47 L567.7 244.8 L568.7 245.14 L569.7 245.48 L570.7 245.82 L571.7 246.16 L572.7 246.49 L573.7 246.82 L574.7 247.15 L575.7 247.48 L576.7 247.8 L577.7 248.12 L578.7 248.44 L579.7 248.74 L580.7 249.04 L581.7 249.34 L582.7 249.62 L583.7 249.9 L584.7 250.17 L585.7 250.43 L586.7 250.68 L587.7 250.92 L588.7 251.15 L589.7 251.37 L590.7 251.57 L591.7 251.77 L592.7 251.95 L593.7 252.11 L594.7 252.26 L595.7 252.39 L596.7 252.51 L597.7 252.61 L598.7 252.7 L599.7 252.77 L600.7 252.82 L601.7 252.85 L602.7 252.86 L603.7 252.85 L604.7 252.82 L605.7 252.77 L606.7 252.69 L607.7 252.6 L608.7 252.48 L609.7 252.35 L610.7 252.19 L611.7 252.02 L612.7 251.83 L613.7 251.62 L614.7 251.4 L615.7 251.16 L616.7 250.9 L617.7 250.64 L618.7 250.35 L619.7 250.06 L620.7 249.76 L621.7 249.44 L622.7 249.11 L623.7 248.78 L624.7 248.43 L625.7 248.08 L626.7 247.72 L627.7 247.36 L628.7 246.99 L629.7 246.61 L630.7 246.24 L631.7 245.86 L632.7 245.48 L633.7 245.1 L634.7 244.73 L635.7 244.36 L636.7 243.99 L637.7 243.64 L638.7 243.29 L639.7 242.95 L640.7 242.62 L641.7 242.3 L642.7 241.99 L643.7 241.71 L644.7 241.43 L645.7 241.18 L646.7 240.94 L647.7 240.72 L648.7 240.53 L649.7 240.36 L650.7 240.21 L651.7 240.08 L652.7 239.97 L653.7 239.88 L654.7 239.81 L655.7 239.76 L656.7 239.73 L657.7 239.71 L658.7 239.72 L659.7 239.74 L660.7 239.77 L661.7 239.82 L662.7 239.89 L663.7 239.97 L664.7 240.06 L665.7 240.17 L666.7 240.29 L667.7 240.42 L668.7 240.56 L669.7 240.71 L670.7 240.88 L671.7 241.05 L672.7 241.23 L673.7 241.42 L674.7 241.62 L675 241.68" fill="none" stroke="#1c1c1c" stroke-width="1.5" stroke-linejoin="round"/>
<path d="M500.1 150 V221.1 M497.2 150 h5.8 M497.2 221.1 h5.8 M510.7 150 V219.8 M507.8 150 h5.8 M507.8 219.8 h5.8 M521.3 150 V241 M518.4 150 h5.8 M518.4 241 h5.8 M531.9 196.2 V254.9 M529 196.2 h5.8 M529 254.9 h5.8 M542.5 150 V230.2 M539.6 150 h5.8 M539.6 230.2 h5.8 M553.1 211.6 V241.7 M550.2 211.6 h5.8 M550.2 241.7 h5.8 M563.7 222 V244 M560.8 222 h5.8 M560.8 244 h5.8 M574.3 224.3 V241.4 M571.4 224.3 h5.8 M571.4 241.4 h5.8 M584.9 243.7 V255.1 M582 243.7 h5.8 M582 255.1 h5.8 M595.5 253.4 V261.4 M592.6 253.4 h5.8 M592.6 261.4 h5.8" stroke="#00bfbf" stroke-width="1.55" fill="none"/>
<g fill="#00bfbf"><circle cx="500.1" cy="160" r="3.4"/><circle cx="510.7" cy="160" r="3.4"/><circle cx="521.3" cy="203.2" r="3.4"/><circle cx="531.9" cy="225.6" r="3.4"/><circle cx="542.5" cy="209.2" r="3.4"/><circle cx="553.1" cy="226.5" r="3.4"/><circle cx="563.7" cy="233.1" r="3.4"/><circle cx="574.3" cy="232.5" r="3.4"/><circle cx="584.9" cy="249.6" r="3.4"/><circle cx="595.5" cy="257.4" r="3.4"/><circle cx="606.1" cy="255.4" r="3.4"/><circle cx="616.7" cy="252.9" r="3.4"/><circle cx="627.3" cy="252.6" r="3.4"/><circle cx="637.9" cy="242.2" r="3.4"/><circle cx="648.5" cy="242.2" r="3.4"/></g>
</g>
<rect x="494.6" y="190.4" width="174.2" height="116.3" fill="none" stroke="#858585" stroke-width="1.5"/>
<path d="M494.6 306.7 v-1.6 M500.97 306.7 v-1.6 M506.68 306.7 v-3 M544.19 306.7 v-1.6 M566.13 306.7 v-1.6 M581.7 306.7 v-1.6 M593.78 306.7 v-1.6 M603.64 306.7 v-1.6 M611.99 306.7 v-1.6 M619.21 306.7 v-1.6 M625.59 306.7 v-1.6 M631.29 306.7 v-3 M668.8 306.7 v-1.6 M494.6 248.55 h3.5" stroke="#333" stroke-width="1" fill="none"/>
<g transform="translate(506.68 319.1) scale(0.84 1)"><text class="tl" x="0" y="0" text-anchor="middle">10<tspan class="sup" dy="-4.5">-2</tspan></text></g>
<g transform="translate(631.29 319.1) scale(0.84 1)"><text class="tl" x="0" y="0" text-anchor="middle">10<tspan class="sup" dy="-4.5">-1</tspan></text></g>
<g transform="translate(483.6 191.9) rotate(-45) scale(0.85 1)"><text class="tl" x="0" y="3.5" text-anchor="middle">1</text></g>
<g transform="translate(483.6 250.05) rotate(-45) scale(0.85 1)"><text class="tl" x="0" y="3.5" text-anchor="middle">0</text></g>
<g transform="translate(482.4 309.6) rotate(-45) scale(0.85 1)"><text class="tl" x="0" y="3.5" text-anchor="middle">&#8211;1</text></g>
<text class="times" x="496.2" y="187.3">&#215;</text><text class="off" x="503.1" y="186.9" textLength="9.9" lengthAdjust="spacingAndGlyphs">10</text><text class="osup" x="514.3" y="181.8">4</text>
<text class="tz" x="537.3" y="185.2">z</text>
<text class="tm" x="542.6" y="187">m</text>
<text class="teq" x="554.1" y="185.6" textLength="7.6" lengthAdjust="spacingAndGlyphs">=</text>
<text class="tn" x="564.8" y="185.2" textLength="28.8" lengthAdjust="spacingAndGlyphs">0.45,</text>
<text class="tz" x="603" y="185.2">l</text>
<text class="teq" x="609.9" y="185.6" textLength="7.8" lengthAdjust="spacingAndGlyphs">=</text>
<text class="tn" x="620.3" y="185.2" textLength="6.8" lengthAdjust="spacingAndGlyphs">4</text>
<text class="xl" x="581.7" y="335.7" text-anchor="middle">k(h/Mpc)</text>
<g transform="translate(466.6 249.25) rotate(-90)"><text class="yl" x="-10.7" y="0" textLength="21.4" lengthAdjust="spacingAndGlyphs">P<tspan class="ysub" dy="1.8">4</tspan><tspan class="yp" dy="-1.8">(</tspan>k<tspan class="yp">)</tspan></text></g>
<clipPath id="c20"><rect x="40.5" y="365.7" width="174.9" height="116.3"/></clipPath>
<g clip-path="url(#c20)">
<path d="M40.7 389.88 L41.7 389.7 L42.7 389.51 L43.7 389.33 L44.7 389.14 L45.7 388.95 L46.7 388.76 L47.7 388.57 L48.7 388.37 L49.7 388.18 L50.7 388 L51.7 387.81 L52.7 387.62 L53.7 387.44 L54.7 387.26 L55.7 387.08 L56.7 386.9 L57.7 386.73 L58.7 386.57 L59.7 386.4 L60.7 386.24 L61.7 386.09 L62.7 385.94 L63.7 385.8 L64.7 385.67 L65.7 385.54 L66.7 385.42 L67.7 385.31 L68.7 385.2 L69.7 385.11 L70.7 385.02 L71.7 384.94 L72.7 384.87 L73.7 384.81 L74.7 384.76 L75.7 384.72 L76.7 384.7 L77.7 384.68 L78.7 384.68 L79.7 384.69 L80.7 384.71 L81.7 384.74 L82.7 384.79 L83.7 384.85 L84.7 384.93 L85.7 385.02 L86.7 385.12 L87.7 385.25 L88.7 385.38 L89.7 385.54 L90.7 385.71 L91.7 385.89 L92.7 386.1 L93.7 386.32 L94.7 386.56 L95.7 386.82 L96.7 387.09 L97.7 387.39 L98.7 387.71 L99.7 388.04 L100.7 388.4 L101.7 388.77 L102.7 389.17 L103.7 389.58 L104.7 390.01 L105.7 390.45 L106.7 390.91 L107.7 391.38 L108.7 391.87 L109.7 392.38 L110.7 392.89 L111.7 393.42 L112.7 393.96 L113.7 394.52 L114.7 395.08 L115.7 395.65 L116.7 396.24 L117.7 396.83 L118.7 397.43 L119.7 398.04 L120.7 398.65 L121.7 399.27 L122.7 399.9 L123.7 400.53 L124.7 401.17 L125.7 401.81 L126.7 402.45 L127.7 403.1 L128.7 403.75 L129.7 404.4 L130.7 405.05 L131.7 405.7 L132.7 406.35 L133.7 407 L134.7 407.65 L135.7 408.3 L136.7 408.94 L137.7 409.58 L138.7 410.21 L139.7 410.85 L140.7 411.47 L141.7 412.09 L142.7 412.7 L143.7 413.32 L144.7 413.93 L145.7 414.54 L146.7 415.17 L147.7 415.8 L148.7 416.44 L149.7 417.1 L150.7 417.77 L151.7 418.46 L152.7 419.18 L153.7 419.92 L154.7 420.69 L155.7 421.49 L156.7 422.32 L157.7 423.19 L158.7 424.1 L159.7 425.05 L160.7 426.05 L161.7 427.09 L162.7 428.18 L163.7 429.33 L164.7 430.52 L165.7 431.75 L166.7 433.02 L167.7 434.32 L168.7 435.65 L169.7 436.99 L170.7 438.36 L171.7 439.74 L172.7 441.13 L173.7 442.52 L174.7 443.9 L175.7 445.28 L176.7 446.65 L177.7 448 L178.7 449.33 L179.7 450.63 L180.7 451.91 L181.7 453.14 L182.7 454.34 L183.7 455.49 L184.7 456.59 L185.7 457.65 L186.7 458.68 L187.7 459.71 L188.7 460.73 L189.7 461.77 L190.7 462.83 L191.7 463.93 L192.7 465.09 L193.7 466.32 L194.7 467.62 L195.7 469.02 L196.7 470.53 L197.7 472.16 L198.7 473.92 L199.7 475.83 L200.7 477.9 L201.7 480.14 L202.7 482.57 L203.7 485.11 L204.7 487.59 L205.7 489.83 L206 490.42" fill="none" stroke="#1c1c1c" stroke-width="1.5" stroke-linejoin="round"/>
<path d="M46 381.3 V399.1 M43.1 381.3 h5.8 M43.1 399.1 h5.8 M56.6 385.1 V400.3 M53.7 385.1 h5.8 M53.7 400.3 h5.8 M67.2 378.7 V384.6 M64.3 378.7 h5.8 M64.3 384.6 h5.8 M77.8 382.4 V389.6 M74.9 382.4 h5.8 M74.9 389.6 h5.8" stroke="#00bfbf" stroke-width="1.55" fill="none"/>
<g fill="#00bfbf"><circle cx="46" cy="388.1" r="3.4"/><circle cx="56.6" cy="391" r="3.4"/><circle cx="67.2" cy="381.2" r="3.4"/><circle cx="77.8" cy="385.7" r="3.4"/><circle cx="88.4" cy="385.1" r="3.4"/><circle cx="99" cy="387.9" r="3.4"/><circle cx="109.6" cy="394" r="3.4"/><circle cx="120.2" cy="398.1" r="3.4"/><circle cx="130.8" cy="405.2" r="3.4"/><circle cx="141.4" cy="411.8" r="3.4"/><circle cx="152" cy="419" r="3.4"/><circle cx="162.6" cy="430.1" r="3.4"/><circle cx="173.2" cy="442.8" r="3.4"/><circle cx="183.8" cy="455.5" r="3.4"/><circle cx="194.4" cy="467.8" r="3.4"/></g>
</g>
<rect x="40.5" y="365.7" width="174.9" height="116.3" fill="none" stroke="#858585" stroke-width="1.5"/>
<path d="M40.5 482 v-1.6 M46.9 482 v-1.6 M52.62 482 v-3 M90.29 482 v-1.6 M112.32 482 v-1.6 M127.95 482 v-1.6 M140.07 482 v-1.6 M149.98 482 v-1.6 M158.36 482 v-1.6 M165.61 482 v-1.6 M172.01 482 v-1.6 M177.74 482 v-3 M215.4 482 v-1.6 M40.5 482 h3 M40.5 464.5 h1.6 M40.5 454.26 h1.6 M40.5 446.99 h1.6 M40.5 441.35 h1.6 M40.5 436.75 h1.6 M40.5 432.86 h1.6 M40.5 429.49 h1.6 M40.5 426.51 h1.6 M40.5 423.85 h3 M40.5 406.35 h1.6 M40.5 396.11 h1.6 M40.5 388.84 h1.6 M40.5 383.2 h1.6 M40.5 378.6 h1.6 M40.5 374.71 h1.6 M40.5 371.34 h1.6 M40.5 368.36 h1.6" stroke="#333" stroke-width="1" fill="none"/>
<g transform="translate(52.62 494.4) scale(0.84 1)"><text class="tl" x="0" y="0" text-anchor="middle">10<tspan class="sup" dy="-4.5">-2</tspan></text></g>
<g transform="translate(177.74 494.4) scale(0.84 1)"><text class="tl" x="0" y="0" text-anchor="middle">10<tspan class="sup" dy="-4.5">-1</tspan></text></g>
<g transform="translate(25.7 370.3) rotate(-45) scale(0.9 1.06)"><text class="tl" x="0" y="3.5" text-anchor="middle">10<tspan class="sup" dy="-4.5">5</tspan></text></g>
<g transform="translate(25.7 428.45) rotate(-45) scale(0.9 1.06)"><text class="tl" x="0" y="3.5" text-anchor="middle">10<tspan class="sup" dy="-4.5">4</tspan></text></g>
<g transform="translate(25.7 486.6) rotate(-45) scale(0.9 1.06)"><text class="tl" x="0" y="3.5" text-anchor="middle">10<tspan class="sup" dy="-4.5">3</tspan></text></g>
<text class="tz" x="83.55" y="360.5">z</text>
<text class="tm" x="88.85" y="362.3">m</text>
<text class="teq" x="100.35" y="360.9" textLength="7.6" lengthAdjust="spacingAndGlyphs">=</text>
<text class="tn" x="111.05" y="360.5" textLength="28.8" lengthAdjust="spacingAndGlyphs">0.75,</text>
<text class="tz" x="149.25" y="360.5">l</text>
<text class="teq" x="156.15" y="360.9" textLength="7.8" lengthAdjust="spacingAndGlyphs">=</text>
<text class="tn" x="166.55" y="360.5" textLength="6.8" lengthAdjust="spacingAndGlyphs">0</text>
<text class="xl" x="127.95" y="511" text-anchor="middle">k(h/Mpc)</text>
<g transform="translate(9 424.55) rotate(-90)"><text class="yl" x="-10.7" y="0" textLength="21.4" lengthAdjust="spacingAndGlyphs">P<tspan class="ysub" dy="1.8">0</tspan><tspan class="yp" dy="-1.8">(</tspan>k<tspan class="yp">)</tspan></text></g>
<clipPath id="c21"><rect x="267.7" y="365.7" width="174.4" height="116.3"/></clipPath>
<g clip-path="url(#c21)">
<path d="M267.7 416.92 L268.7 416.58 L269.7 416.25 L270.7 415.92 L271.7 415.6 L272.7 415.3 L273.7 415 L274.7 414.71 L275.7 414.43 L276.7 414.17 L277.7 413.91 L278.7 413.66 L279.7 413.43 L280.7 413.21 L281.7 413 L282.7 412.81 L283.7 412.62 L284.7 412.46 L285.7 412.3 L286.7 412.16 L287.7 412.04 L288.7 411.94 L289.7 411.84 L290.7 411.77 L291.7 411.71 L292.7 411.68 L293.7 411.65 L294.7 411.65 L295.7 411.67 L296.7 411.7 L297.7 411.76 L298.7 411.84 L299.7 411.93 L300.7 412.05 L301.7 412.19 L302.7 412.35 L303.7 412.54 L304.7 412.74 L305.7 412.97 L306.7 413.23 L307.7 413.5 L308.7 413.81 L309.7 414.14 L310.7 414.49 L311.7 414.87 L312.7 415.28 L313.7 415.71 L314.7 416.17 L315.7 416.66 L316.7 417.17 L317.7 417.72 L318.7 418.28 L319.7 418.88 L320.7 419.49 L321.7 420.13 L322.7 420.79 L323.7 421.47 L324.7 422.17 L325.7 422.88 L326.7 423.62 L327.7 424.36 L328.7 425.13 L329.7 425.91 L330.7 426.69 L331.7 427.5 L332.7 428.31 L333.7 429.13 L334.7 429.96 L335.7 430.79 L336.7 431.64 L337.7 432.48 L338.7 433.34 L339.7 434.19 L340.7 435.05 L341.7 435.9 L342.7 436.76 L343.7 437.61 L344.7 438.47 L345.7 439.32 L346.7 440.16 L347.7 441 L348.7 441.83 L349.7 442.65 L350.7 443.47 L351.7 444.27 L352.7 445.07 L353.7 445.85 L354.7 446.62 L355.7 447.37 L356.7 448.11 L357.7 448.83 L358.7 449.54 L359.7 450.22 L360.7 450.89 L361.7 451.54 L362.7 452.18 L363.7 452.79 L364.7 453.39 L365.7 453.97 L366.7 454.54 L367.7 455.08 L368.7 455.61 L369.7 456.12 L370.7 456.61 L371.7 457.08 L372.7 457.54 L373.7 457.98 L374.7 458.4 L375.7 458.8 L376.7 459.19 L377.7 459.56 L378.7 459.91 L379.7 460.24 L380.7 460.55 L381.7 460.85 L382.7 461.13 L383.7 461.39 L384.7 461.63 L385.7 461.86 L386.7 462.07 L387.7 462.26 L388.7 462.43 L389.7 462.58 L390.7 462.72 L391.7 462.84 L392.7 462.94 L393.7 463.02 L394.7 463.08 L395.7 463.13 L396.7 463.16 L397.7 463.17 L398.7 463.17 L399.7 463.14 L400.7 463.1 L401.7 463.04 L402.7 462.96 L403.7 462.87 L404.7 462.76 L405.7 462.64 L406.7 462.51 L407.7 462.36 L408.7 462.21 L409.7 462.04 L410.7 461.86 L411.7 461.67 L412.7 461.48 L413.7 461.28 L414.7 461.07 L415.7 460.86 L416.7 460.65 L417.7 460.43 L418.7 460.21 L419.7 459.99 L420.7 459.77 L421.7 459.55 L422.7 459.33 L423.7 459.11 L424.7 458.89 L425.7 458.68 L426.7 458.48 L427.7 458.28 L428.7 458.09 L429.7 457.9 L430.7 457.73 L431.7 457.56 L432.7 457.4 L433.7 457.26 L434.7 457.13 L435.7 457.01 L436.7 456.9 L437.7 456.81 L438.7 456.74 L439.7 456.68 L440.7 456.64 L441.7 456.62 L442.7 456.62 L443.7 456.64 L444.7 456.68 L445.7 456.75 L446.7 456.83 L447.7 456.94 L448.7 457.08 L449.7 457.24 L450 457.29" fill="none" stroke="#1c1c1c" stroke-width="1.5" stroke-linejoin="round"/>
<path d="M273.2 421.5 V453.6 M270.3 421.5 h5.8 M270.3 453.6 h5.8 M283.8 396.3 V420.4 M280.9 396.3 h5.8 M280.9 420.4 h5.8 M294.4 407.8 V425.4 M291.5 407.8 h5.8 M291.5 425.4 h5.8 M305 409.7 V423.4 M302.1 409.7 h5.8 M302.1 423.4 h5.8 M315.6 412.2 V421.9 M312.7 412.2 h5.8 M312.7 421.9 h5.8 M326.2 421.9 V428.7 M323.3 421.9 h5.8 M323.3 428.7 h5.8" stroke="#00bfbf" stroke-width="1.55" fill="none"/>
<g fill="#00bfbf"><circle cx="273.2" cy="437.6" r="3.4"/><circle cx="283.8" cy="408.5" r="3.4"/><circle cx="294.4" cy="416.7" r="3.4"/><circle cx="305" cy="416.7" r="3.4"/><circle cx="315.6" cy="417.5" r="3.4"/><circle cx="326.2" cy="425.7" r="3.4"/><circle cx="336.8" cy="430.9" r="3.4"/><circle cx="347.4" cy="441.3" r="3.4"/><circle cx="358" cy="449.1" r="3.4"/><circle cx="368.6" cy="456.7" r="3.4"/><circle cx="379.2" cy="461.2" r="3.4"/><circle cx="389.8" cy="464" r="3.4"/><circle cx="400.4" cy="463.3" r="3.4"/><circle cx="411" cy="461" r="3.4"/><circle cx="421.6" cy="459.6" r="3.4"/></g>
</g>
<rect x="267.7" y="365.7" width="174.4" height="116.3" fill="none" stroke="#858585" stroke-width="1.5"/>
<path d="M267.7 482 v-1.6 M274.08 482 v-1.6 M279.79 482 v-3 M317.35 482 v-1.6 M339.31 482 v-1.6 M354.9 482 v-1.6 M366.99 482 v-1.6 M376.87 482 v-1.6 M385.22 482 v-1.6 M392.45 482 v-1.6 M398.84 482 v-1.6 M404.55 482 v-3 M442.1 482 v-1.6 M267.7 456.16 h3.5 M267.7 391.54 h3.5" stroke="#333" stroke-width="1" fill="none"/>
<g transform="translate(279.79 494.4) scale(0.84 1)"><text class="tl" x="0" y="0" text-anchor="middle">10<tspan class="sup" dy="-4.5">-2</tspan></text></g>
<g transform="translate(404.55 494.4) scale(0.84 1)"><text class="tl" x="0" y="0" text-anchor="middle">10<tspan class="sup" dy="-4.5">-1</tspan></text></g>
<g transform="translate(256.7 457.66) rotate(-45) scale(0.85 1)"><text class="tl" x="0" y="3.5" text-anchor="middle">0</text></g>
<g transform="translate(256.7 393.04) rotate(-45) scale(0.85 1)"><text class="tl" x="0" y="3.5" text-anchor="middle">5</text></g>
<text class="times" x="269.3" y="362.6">&#215;</text><text class="off" x="276.2" y="362.2" textLength="9.9" lengthAdjust="spacingAndGlyphs">10</text><text class="osup" x="287.4" y="357.1">4</text>
<text class="tz" x="310.5" y="360.5">z</text>
<text class="tm" x="315.8" y="362.3">m</text>
<text class="teq" x="327.3" y="360.9" textLength="7.6" lengthAdjust="spacingAndGlyphs">=</text>
<text class="tn" x="338" y="360.5" textLength="28.8" lengthAdjust="spacingAndGlyphs">0.75,</text>
<text class="tz" x="376.2" y="360.5">l</text>
<text class="teq" x="383.1" y="360.9" textLength="7.8" lengthAdjust="spacingAndGlyphs">=</text>
<text class="tn" x="393.5" y="360.5" textLength="6.8" lengthAdjust="spacingAndGlyphs">2</text>
<text class="xl" x="354.9" y="511" text-anchor="middle">k(h/Mpc)</text>
<g transform="translate(243.8 424.55) rotate(-90)"><text class="yl" x="-10.7" y="0" textLength="21.4" lengthAdjust="spacingAndGlyphs">P<tspan class="ysub" dy="1.8">2</tspan><tspan class="yp" dy="-1.8">(</tspan>k<tspan class="yp">)</tspan></text></g>
<clipPath id="c22"><rect x="494.6" y="365.7" width="174.2" height="116.3"/></clipPath>
<g clip-path="url(#c22)">
<path d="M494.7 407.59 L495.7 407.62 L496.7 407.63 L497.7 407.64 L498.7 407.63 L499.7 407.62 L500.7 407.6 L501.7 407.58 L502.7 407.55 L503.7 407.52 L504.7 407.49 L505.7 407.45 L506.7 407.42 L507.7 407.39 L508.7 407.35 L509.7 407.33 L510.7 407.3 L511.7 407.29 L512.7 407.27 L513.7 407.27 L514.7 407.28 L515.7 407.29 L516.7 407.32 L517.7 407.35 L518.7 407.4 L519.7 407.47 L520.7 407.55 L521.7 407.64 L522.7 407.76 L523.7 407.89 L524.7 408.04 L525.7 408.21 L526.7 408.4 L527.7 408.62 L528.7 408.86 L529.7 409.12 L530.7 409.41 L531.7 409.72 L532.7 410.06 L533.7 410.41 L534.7 410.79 L535.7 411.19 L536.7 411.6 L537.7 412.03 L538.7 412.48 L539.7 412.94 L540.7 413.41 L541.7 413.89 L542.7 414.39 L543.7 414.89 L544.7 415.4 L545.7 415.92 L546.7 416.45 L547.7 416.98 L548.7 417.51 L549.7 418.04 L550.7 418.58 L551.7 419.11 L552.7 419.64 L553.7 420.17 L554.7 420.7 L555.7 421.22 L556.7 421.73 L557.7 422.24 L558.7 422.74 L559.7 423.23 L560.7 423.7 L561.7 424.17 L562.7 424.62 L563.7 425.06 L564.7 425.49 L565.7 425.9 L566.7 426.3 L567.7 426.69 L568.7 427.06 L569.7 427.42 L570.7 427.76 L571.7 428.08 L572.7 428.39 L573.7 428.68 L574.7 428.95 L575.7 429.2 L576.7 429.44 L577.7 429.65 L578.7 429.85 L579.7 430.03 L580.7 430.18 L581.7 430.31 L582.7 430.43 L583.7 430.52 L584.7 430.58 L585.7 430.63 L586.7 430.65 L587.7 430.65 L588.7 430.62 L589.7 430.57 L590.7 430.49 L591.7 430.39 L592.7 430.25 L593.7 430.1 L594.7 429.91 L595.7 429.7 L596.7 429.46 L597.7 429.19 L598.7 428.89 L599.7 428.56 L600.7 428.2 L601.7 427.81 L602.7 427.39 L603.7 426.93 L604.7 426.45 L605.7 425.93 L606.7 425.38 L607.7 424.79 L608.7 424.18 L609.7 423.55 L610.7 422.89 L611.7 422.21 L612.7 421.52 L613.7 420.82 L614.7 420.11 L615.7 419.4 L616.7 418.68 L617.7 417.97 L618.7 417.26 L619.7 416.56 L620.7 415.87 L621.7 415.2 L622.7 414.54 L623.7 413.9 L624.7 413.29 L625.7 412.71 L626.7 412.16 L627.7 411.64 L628.7 411.16 L629.7 410.71 L630.7 410.3 L631.7 409.92 L632.7 409.58 L633.7 409.28 L634.7 409.01 L635.7 408.77 L636.7 408.57 L637.7 408.4 L638.7 408.26 L639.7 408.16 L640.7 408.09 L641.7 408.05 L642.7 408.04 L643.7 408.07 L644.7 408.12 L645.7 408.21 L646.7 408.33 L647.7 408.48 L648.7 408.66 L649.7 408.87 L650.7 409.1 L651.7 409.37 L652.7 409.65 L653.7 409.95 L654.7 410.27 L655.7 410.61 L656.7 410.96 L657.7 411.31 L658.7 411.68 L659.7 412.05 L660.7 412.43 L661.7 412.8 L662.7 413.18 L663.7 413.55 L664.7 413.91 L665.7 414.26 L666.7 414.61 L667.7 414.94 L668.7 415.25 L669.7 415.54 L670.7 415.82 L671.7 416.07 L672.7 416.29 L673.7 416.49 L674.7 416.65 L675 416.69" fill="none" stroke="#1c1c1c" stroke-width="1.5" stroke-linejoin="round"/>
<path d="M500.1 300 V405.5 M497.2 300 h5.8 M497.2 405.5 h5.8 M510.7 300 V433.1 M507.8 300 h5.8 M507.8 433.1 h5.8 M521.3 393.6 V444.6 M518.4 393.6 h5.8 M518.4 444.6 h5.8 M531.9 402.5 V441.3 M529 402.5 h5.8 M529 441.3 h5.8 M542.5 430.1 V458.1 M539.6 430.1 h5.8 M539.6 458.1 h5.8 M553.1 417.5 V437.6 M550.2 417.5 h5.8 M550.2 437.6 h5.8 M563.7 403.3 V417.9 M560.8 403.3 h5.8 M560.8 417.9 h5.8 M574.3 421.2 V433.1 M571.4 421.2 h5.8 M571.4 433.1 h5.8 M584.9 423.4 V430.9 M582 423.4 h5.8 M582 430.9 h5.8" stroke="#00bfbf" stroke-width="1.55" fill="none"/>
<g fill="#00bfbf"><circle cx="500.1" cy="300" r="3.4"/><circle cx="510.7" cy="398.8" r="3.4"/><circle cx="521.3" cy="419" r="3.4"/><circle cx="531.9" cy="421.9" r="3.4"/><circle cx="542.5" cy="443.9" r="3.4"/><circle cx="553.1" cy="427.9" r="3.4"/><circle cx="563.7" cy="410.7" r="3.4"/><circle cx="574.3" cy="427.5" r="3.4"/><circle cx="584.9" cy="427.2" r="3.4"/><circle cx="595.5" cy="430.1" r="3.4"/><circle cx="606.1" cy="430.1" r="3.4"/><circle cx="616.7" cy="419" r="3.4"/><circle cx="627.3" cy="414.5" r="3.4"/><circle cx="637.9" cy="409" r="3.4"/><circle cx="648.5" cy="408.5" r="3.4"/></g>
</g>
<rect x="494.6" y="365.7" width="174.2" height="116.3" fill="none" stroke="#858585" stroke-width="1.5"/>
<path d="M494.6 482 v-1.6 M500.97 482 v-1.6 M506.68 482 v-3 M544.19 482 v-1.6 M566.13 482 v-1.6 M581.7 482 v-1.6 M593.78 482 v-1.6 M603.64 482 v-1.6 M611.99 482 v-1.6 M619.21 482 v-1.6 M625.59 482 v-1.6 M631.29 482 v-3 M668.8 482 v-1.6 M494.6 423.85 h3.5" stroke="#333" stroke-width="1" fill="none"/>
<g transform="translate(506.68 494.4) scale(0.84 1)"><text class="tl" x="0" y="0" text-anchor="middle">10<tspan class="sup" dy="-4.5">-2</tspan></text></g>
<g transform="translate(631.29 494.4) scale(0.84 1)"><text class="tl" x="0" y="0" text-anchor="middle">10<tspan class="sup" dy="-4.5">-1</tspan></text></g>
<g transform="translate(483.6 367.2) rotate(-45) scale(0.85 1)"><text class="tl" x="0" y="3.5" text-anchor="middle">1</text></g>
<g transform="translate(483.6 425.35) rotate(-45) scale(0.85 1)"><text class="tl" x="0" y="3.5" text-anchor="middle">0</text></g>
<g transform="translate(482.4 484.9) rotate(-45) scale(0.85 1)"><text class="tl" x="0" y="3.5" text-anchor="middle">&#8211;1</text></g>
<text class="times" x="496.2" y="362.6">&#215;</text><text class="off" x="503.1" y="362.2" textLength="9.9" lengthAdjust="spacingAndGlyphs">10</text><text class="osup" x="514.3" y="357.1">4</text>
<text class="tz" x="537.3" y="360.5">z</text>
<text class="tm" x="542.6" y="362.3">m</text>
<text class="teq" x="554.1" y="360.9" textLength="7.6" lengthAdjust="spacingAndGlyphs">=</text>
<text class="tn" x="564.8" y="360.5" textLength="28.8" lengthAdjust="spacingAndGlyphs">0.75,</text>
<text class="tz" x="603" y="360.5">l</text>
<text class="teq" x="609.9" y="360.9" textLength="7.8" lengthAdjust="spacingAndGlyphs">=</text>
<text class="tn" x="620.3" y="360.5" textLength="6.8" lengthAdjust="spacingAndGlyphs">4</text>
<text class="xl" x="581.7" y="511" text-anchor="middle">k(h/Mpc)</text>
<g transform="translate(466.6 424.55) rotate(-90)"><text class="yl" x="-10.7" y="0" textLength="21.4" lengthAdjust="spacingAndGlyphs">P<tspan class="ysub" dy="1.8">4</tspan><tspan class="yp" dy="-1.8">(</tspan>k<tspan class="yp">)</tspan></text></g>
<clipPath id="c30"><rect x="40.5" y="541" width="174.9" height="116.3"/></clipPath>
<g clip-path="url(#c30)">
<path d="M40.7 563.59 L41.7 563.29 L42.7 563 L43.7 562.71 L44.7 562.44 L45.7 562.17 L46.7 561.91 L47.7 561.65 L48.7 561.41 L49.7 561.17 L50.7 560.95 L51.7 560.73 L52.7 560.52 L53.7 560.32 L54.7 560.13 L55.7 559.94 L56.7 559.77 L57.7 559.61 L58.7 559.45 L59.7 559.31 L60.7 559.17 L61.7 559.05 L62.7 558.94 L63.7 558.83 L64.7 558.74 L65.7 558.66 L66.7 558.59 L67.7 558.53 L68.7 558.48 L69.7 558.44 L70.7 558.41 L71.7 558.4 L72.7 558.4 L73.7 558.41 L74.7 558.43 L75.7 558.46 L76.7 558.51 L77.7 558.56 L78.7 558.64 L79.7 558.72 L80.7 558.82 L81.7 558.93 L82.7 559.05 L83.7 559.19 L84.7 559.34 L85.7 559.5 L86.7 559.68 L87.7 559.87 L88.7 560.08 L89.7 560.3 L90.7 560.53 L91.7 560.78 L92.7 561.04 L93.7 561.32 L94.7 561.62 L95.7 561.92 L96.7 562.25 L97.7 562.59 L98.7 562.94 L99.7 563.32 L100.7 563.7 L101.7 564.1 L102.7 564.52 L103.7 564.96 L104.7 565.4 L105.7 565.87 L106.7 566.35 L107.7 566.84 L108.7 567.35 L109.7 567.87 L110.7 568.41 L111.7 568.96 L112.7 569.53 L113.7 570.11 L114.7 570.71 L115.7 571.32 L116.7 571.94 L117.7 572.58 L118.7 573.23 L119.7 573.9 L120.7 574.57 L121.7 575.27 L122.7 575.97 L123.7 576.69 L124.7 577.43 L125.7 578.17 L126.7 578.93 L127.7 579.7 L128.7 580.49 L129.7 581.28 L130.7 582.09 L131.7 582.91 L132.7 583.75 L133.7 584.6 L134.7 585.45 L135.7 586.33 L136.7 587.21 L137.7 588.1 L138.7 589.01 L139.7 589.93 L140.7 590.86 L141.7 591.8 L142.7 592.75 L143.7 593.72 L144.7 594.69 L145.7 595.68 L146.7 596.67 L147.7 597.68 L148.7 598.7 L149.7 599.72 L150.7 600.76 L151.7 601.8 L152.7 602.85 L153.7 603.92 L154.7 604.99 L155.7 606.07 L156.7 607.16 L157.7 608.25 L158.7 609.35 L159.7 610.46 L160.7 611.58 L161.7 612.71 L162.7 613.84 L163.7 614.98 L164.7 616.12 L165.7 617.27 L166.7 618.43 L167.7 619.59 L168.7 620.76 L169.7 621.93 L170.7 623.11 L171.7 624.3 L172.7 625.48 L173.7 626.68 L174.7 627.87 L175.7 629.07 L176.7 630.27 L177.7 631.48 L178.7 632.69 L179.7 633.9 L180.7 635.12 L181.7 636.34 L182.7 637.56 L183.7 638.78 L184.7 640.01 L185.7 641.23 L186.7 642.46 L187.7 643.69 L188.7 644.92 L189.7 646.15 L190.7 647.38 L191.7 648.61 L192.7 649.84 L193.7 651.07 L194.7 652.31 L195.7 653.54 L196.7 654.76 L197.7 655.99 L198.7 657.22 L199.7 658.45 L200.7 659.67 L201.7 660.89 L202.7 662.11 L203.7 663.33 L204 663.69" fill="none" stroke="#1c1c1c" stroke-width="1.5" stroke-linejoin="round"/>
<path d="M46 558.7 V575.6 M43.1 558.7 h5.8 M43.1 575.6 h5.8 M56.6 550.2 V556.9 M53.7 550.2 h5.8 M53.7 556.9 h5.8 M67.2 559.1 V566.6 M64.3 559.1 h5.8 M64.3 566.6 h5.8" stroke="#00bfbf" stroke-width="1.55" fill="none"/>
<g fill="#00bfbf"><circle cx="46" cy="565.9" r="3.4"/><circle cx="56.6" cy="553.9" r="3.4"/><circle cx="67.2" cy="562.1" r="3.4"/><circle cx="77.8" cy="557.6" r="3.4"/><circle cx="88.4" cy="558.1" r="3.4"/><circle cx="99" cy="565.9" r="3.4"/><circle cx="109.6" cy="566.6" r="3.4"/><circle cx="120.2" cy="575.6" r="3.4"/><circle cx="130.8" cy="582.3" r="3.4"/><circle cx="141.4" cy="592" r="3.4"/><circle cx="152" cy="603.9" r="3.4"/><circle cx="162.6" cy="614.4" r="3.4"/><circle cx="173.2" cy="627.3" r="3.4"/><circle cx="183.8" cy="638.7" r="3.4"/><circle cx="194.4" cy="654.7" r="3.4"/></g>
</g>
<rect x="40.5" y="541" width="174.9" height="116.3" fill="none" stroke="#858585" stroke-width="1.5"/>
<path d="M40.5 657.3 v-1.6 M46.9 657.3 v-1.6 M52.62 657.3 v-3 M90.29 657.3 v-1.6 M112.32 657.3 v-1.6 M127.95 657.3 v-1.6 M140.07 657.3 v-1.6 M149.98 657.3 v-1.6 M158.36 657.3 v-1.6 M165.61 657.3 v-1.6 M172.01 657.3 v-1.6 M177.74 657.3 v-3 M215.4 657.3 v-1.6 M40.5 657.3 h3 M40.5 639.8 h1.6 M40.5 629.56 h1.6 M40.5 622.29 h1.6 M40.5 616.65 h1.6 M40.5 612.05 h1.6 M40.5 608.16 h1.6 M40.5 604.79 h1.6 M40.5 601.81 h1.6 M40.5 599.15 h3 M40.5 581.65 h1.6 M40.5 571.41 h1.6 M40.5 564.14 h1.6 M40.5 558.5 h1.6 M40.5 553.9 h1.6 M40.5 550.01 h1.6 M40.5 546.64 h1.6 M40.5 543.66 h1.6" stroke="#333" stroke-width="1" fill="none"/>
<g transform="translate(52.62 669.7) scale(0.84 1)"><text class="tl" x="0" y="0" text-anchor="middle">10<tspan class="sup" dy="-4.5">-2</tspan></text></g>
<g transform="translate(177.74 669.7) scale(0.84 1)"><text class="tl" x="0" y="0" text-anchor="middle">10<tspan class="sup" dy="-4.5">-1</tspan></text></g>
<g transform="translate(25.7 545.6) rotate(-45) scale(0.9 1.06)"><text class="tl" x="0" y="3.5" text-anchor="middle">10<tspan class="sup" dy="-4.5">5</tspan></text></g>
<g transform="translate(25.7 603.75) rotate(-45) scale(0.9 1.06)"><text class="tl" x="0" y="3.5" text-anchor="middle">10<tspan class="sup" dy="-4.5">4</tspan></text></g>
<g transform="translate(25.7 661.9) rotate(-45) scale(0.9 1.06)"><text class="tl" x="0" y="3.5" text-anchor="middle">10<tspan class="sup" dy="-4.5">3</tspan></text></g>
<text class="tz" x="83.55" y="535.8">z</text>
<text class="tm" x="88.85" y="537.6">m</text>
<text class="teq" x="100.35" y="536.2" textLength="7.6" lengthAdjust="spacingAndGlyphs">=</text>
<text class="tn" x="111.05" y="535.8" textLength="28.8" lengthAdjust="spacingAndGlyphs">1.05,</text>
<text class="tz" x="149.25" y="535.8">l</text>
<text class="teq" x="156.15" y="536.2" textLength="7.8" lengthAdjust="spacingAndGlyphs">=</text>
<text class="tn" x="166.55" y="535.8" textLength="6.8" lengthAdjust="spacingAndGlyphs">0</text>
<text class="xl" x="127.95" y="686.3" text-anchor="middle">k(h/Mpc)</text>
<g transform="translate(9 599.85) rotate(-90)"><text class="yl" x="-10.7" y="0" textLength="21.4" lengthAdjust="spacingAndGlyphs">P<tspan class="ysub" dy="1.8">0</tspan><tspan class="yp" dy="-1.8">(</tspan>k<tspan class="yp">)</tspan></text></g>
<clipPath id="c31"><rect x="267.7" y="541" width="174.4" height="116.3"/></clipPath>
<g clip-path="url(#c31)">
<path d="M267.7 585.88 L268.7 585.45 L269.7 585.04 L270.7 584.65 L271.7 584.28 L272.7 583.92 L273.7 583.59 L274.7 583.27 L275.7 582.97 L276.7 582.69 L277.7 582.43 L278.7 582.19 L279.7 581.97 L280.7 581.77 L281.7 581.6 L282.7 581.44 L283.7 581.31 L284.7 581.2 L285.7 581.11 L286.7 581.04 L287.7 581 L288.7 580.98 L289.7 580.99 L290.7 581.02 L291.7 581.07 L292.7 581.15 L293.7 581.25 L294.7 581.38 L295.7 581.53 L296.7 581.72 L297.7 581.92 L298.7 582.16 L299.7 582.42 L300.7 582.71 L301.7 583.02 L302.7 583.37 L303.7 583.74 L304.7 584.14 L305.7 584.57 L306.7 585.04 L307.7 585.53 L308.7 586.05 L309.7 586.6 L310.7 587.18 L311.7 587.79 L312.7 588.44 L313.7 589.11 L314.7 589.82 L315.7 590.56 L316.7 591.34 L317.7 592.14 L318.7 592.97 L319.7 593.83 L320.7 594.72 L321.7 595.63 L322.7 596.56 L323.7 597.52 L324.7 598.49 L325.7 599.49 L326.7 600.5 L327.7 601.53 L328.7 602.57 L329.7 603.62 L330.7 604.68 L331.7 605.76 L332.7 606.84 L333.7 607.93 L334.7 609.02 L335.7 610.12 L336.7 611.22 L337.7 612.32 L338.7 613.42 L339.7 614.52 L340.7 615.61 L341.7 616.7 L342.7 617.78 L343.7 618.85 L344.7 619.92 L345.7 620.97 L346.7 622.01 L347.7 623.03 L348.7 624.04 L349.7 625.03 L350.7 626 L351.7 626.95 L352.7 627.88 L353.7 628.79 L354.7 629.67 L355.7 630.53 L356.7 631.36 L357.7 632.15 L358.7 632.92 L359.7 633.66 L360.7 634.36 L361.7 635.04 L362.7 635.68 L363.7 636.3 L364.7 636.88 L365.7 637.43 L366.7 637.95 L367.7 638.44 L368.7 638.9 L369.7 639.33 L370.7 639.73 L371.7 640.1 L372.7 640.43 L373.7 640.74 L374.7 641.01 L375.7 641.26 L376.7 641.47 L377.7 641.66 L378.7 641.81 L379.7 641.93 L380.7 642.02 L381.7 642.09 L382.7 642.13 L383.7 642.14 L384.7 642.12 L385.7 642.08 L386.7 642.02 L387.7 641.94 L388.7 641.84 L389.7 641.72 L390.7 641.58 L391.7 641.43 L392.7 641.26 L393.7 641.07 L394.7 640.88 L395.7 640.67 L396.7 640.45 L397.7 640.22 L398.7 639.98 L399.7 639.74 L400.7 639.49 L401.7 639.24 L402.7 638.98 L403.7 638.72 L404.7 638.45 L405.7 638.19 L406.7 637.92 L407.7 637.65 L408.7 637.38 L409.7 637.11 L410.7 636.85 L411.7 636.58 L412.7 636.32 L413.7 636.06 L414.7 635.8 L415.7 635.55 L416.7 635.3 L417.7 635.06 L418.7 634.83 L419.7 634.6 L420.7 634.38 L421.7 634.17 L422.7 633.97 L423.7 633.78 L424.7 633.59 L425.7 633.42 L426.7 633.26 L427.7 633.1 L428.7 632.95 L429.7 632.82 L430.7 632.69 L431.7 632.57 L432.7 632.46 L433.7 632.37 L434.7 632.28 L435.7 632.2 L436.7 632.13 L437.7 632.08 L438.7 632.03 L439.7 631.99 L440.7 631.97 L441.7 631.95 L442.7 631.94 L443.7 631.95 L444.7 631.97 L445.7 631.99 L446.7 632.03 L447.7 632.08 L448.7 632.14 L449.7 632.21 L450 632.23" fill="none" stroke="#1c1c1c" stroke-width="1.5" stroke-linejoin="round"/>
<path d="M273.2 558.4 V584.5 M270.3 558.4 h5.8 M270.3 584.5 h5.8 M283.8 566.6 V586.4 M280.9 566.6 h5.8 M280.9 586.4 h5.8 M294.4 573 V588.5 M291.5 573 h5.8 M291.5 588.5 h5.8 M305 579.3 V591.2 M302.1 579.3 h5.8 M302.1 591.2 h5.8 M315.6 587.5 V595.7 M312.7 587.5 h5.8 M312.7 595.7 h5.8" stroke="#00bfbf" stroke-width="1.55" fill="none"/>
<g fill="#00bfbf"><circle cx="273.2" cy="571.5" r="3.4"/><circle cx="283.8" cy="576" r="3.4"/><circle cx="294.4" cy="581.5" r="3.4"/><circle cx="305" cy="585" r="3.4"/><circle cx="315.6" cy="592" r="3.4"/><circle cx="326.2" cy="601.7" r="3.4"/><circle cx="336.8" cy="609.9" r="3.4"/><circle cx="347.4" cy="624.4" r="3.4"/><circle cx="358" cy="632.7" r="3.4"/><circle cx="368.6" cy="639.3" r="3.4"/><circle cx="379.2" cy="642.3" r="3.4"/><circle cx="389.8" cy="641.7" r="3.4"/><circle cx="400.4" cy="639" r="3.4"/><circle cx="411" cy="636" r="3.4"/><circle cx="421.6" cy="634.5" r="3.4"/></g>
</g>
<rect x="267.7" y="541" width="174.4" height="116.3" fill="none" stroke="#858585" stroke-width="1.5"/>
<path d="M267.7 657.3 v-1.6 M274.08 657.3 v-1.6 M279.79 657.3 v-3 M317.35 657.3 v-1.6 M339.31 657.3 v-1.6 M354.9 657.3 v-1.6 M366.99 657.3 v-1.6 M376.87 657.3 v-1.6 M385.22 657.3 v-1.6 M392.45 657.3 v-1.6 M398.84 657.3 v-1.6 M404.55 657.3 v-3 M442.1 657.3 v-1.6 M267.7 631.46 h3.5 M267.7 566.84 h3.5" stroke="#333" stroke-width="1" fill="none"/>
<g transform="translate(279.79 669.7) scale(0.84 1)"><text class="tl" x="0" y="0" text-anchor="middle">10<tspan class="sup" dy="-4.5">-2</tspan></text></g>
<g transform="translate(404.55 669.7) scale(0.84 1)"><text class="tl" x="0" y="0" text-anchor="middle">10<tspan class="sup" dy="-4.5">-1</tspan></text></g>
<g transform="translate(256.7 632.96) rotate(-45) scale(0.85 1)"><text class="tl" x="0" y="3.5" text-anchor="middle">0</text></g>
<g transform="translate(256.7 568.34) rotate(-45) scale(0.85 1)"><text class="tl" x="0" y="3.5" text-anchor="middle">5</text></g>
<text class="times" x="269.3" y="537.9">&#215;</text><text class="off" x="276.2" y="537.5" textLength="9.9" lengthAdjust="spacingAndGlyphs">10</text><text class="osup" x="287.4" y="532.4">4</text>
<text class="tz" x="310.5" y="535.8">z</text>
<text class="tm" x="315.8" y="537.6">m</text>
<text class="teq" x="327.3" y="536.2" textLength="7.6" lengthAdjust="spacingAndGlyphs">=</text>
<text class="tn" x="338" y="535.8" textLength="28.8" lengthAdjust="spacingAndGlyphs">1.05,</text>
<text class="tz" x="376.2" y="535.8">l</text>
<text class="teq" x="383.1" y="536.2" textLength="7.8" lengthAdjust="spacingAndGlyphs">=</text>
<text class="tn" x="393.5" y="535.8" textLength="6.8" lengthAdjust="spacingAndGlyphs">2</text>
<text class="xl" x="354.9" y="686.3" text-anchor="middle">k(h/Mpc)</text>
<g transform="translate(243.8 599.85) rotate(-90)"><text class="yl" x="-10.7" y="0" textLength="21.4" lengthAdjust="spacingAndGlyphs">P<tspan class="ysub" dy="1.8">2</tspan><tspan class="yp" dy="-1.8">(</tspan>k<tspan class="yp">)</tspan></text></g>
<clipPath id="c32"><rect x="494.6" y="541" width="174.2" height="116.3"/></clipPath>
<g clip-path="url(#c32)">
<path d="M494.7 579.71 L495.7 579.65 L496.7 579.61 L497.7 579.59 L498.7 579.58 L499.7 579.58 L500.7 579.6 L501.7 579.64 L502.7 579.69 L503.7 579.75 L504.7 579.83 L505.7 579.93 L506.7 580.04 L507.7 580.17 L508.7 580.32 L509.7 580.47 L510.7 580.65 L511.7 580.84 L512.7 581.05 L513.7 581.27 L514.7 581.51 L515.7 581.77 L516.7 582.04 L517.7 582.33 L518.7 582.64 L519.7 582.96 L520.7 583.3 L521.7 583.65 L522.7 584.02 L523.7 584.41 L524.7 584.82 L525.7 585.24 L526.7 585.68 L527.7 586.14 L528.7 586.62 L529.7 587.11 L530.7 587.62 L531.7 588.15 L532.7 588.69 L533.7 589.26 L534.7 589.84 L535.7 590.44 L536.7 591.06 L537.7 591.7 L538.7 592.37 L539.7 593.05 L540.7 593.76 L541.7 594.49 L542.7 595.25 L543.7 596.02 L544.7 596.82 L545.7 597.62 L546.7 598.43 L547.7 599.24 L548.7 600.04 L549.7 600.84 L550.7 601.62 L551.7 602.38 L552.7 603.12 L553.7 603.82 L554.7 604.5 L555.7 605.14 L556.7 605.74 L557.7 606.32 L558.7 606.86 L559.7 607.37 L560.7 607.84 L561.7 608.28 L562.7 608.69 L563.7 609.06 L564.7 609.4 L565.7 609.71 L566.7 609.98 L567.7 610.22 L568.7 610.42 L569.7 610.58 L570.7 610.72 L571.7 610.81 L572.7 610.87 L573.7 610.9 L574.7 610.89 L575.7 610.84 L576.7 610.76 L577.7 610.65 L578.7 610.49 L579.7 610.3 L580.7 610.08 L581.7 609.82 L582.7 609.52 L583.7 609.18 L584.7 608.81 L585.7 608.4 L586.7 607.95 L587.7 607.47 L588.7 606.94 L589.7 606.38 L590.7 605.79 L591.7 605.15 L592.7 604.48 L593.7 603.76 L594.7 603.01 L595.7 602.22 L596.7 601.39 L597.7 600.52 L598.7 599.62 L599.7 598.66 L600.7 597.67 L601.7 596.63 L602.7 595.55 L603.7 594.43 L604.7 593.25 L605.7 592.04 L606.7 590.77 L607.7 589.47 L608.7 588.14 L609.7 586.81 L610.7 585.49 L611.7 584.2 L612.7 582.96 L613.7 581.77 L614.7 580.65 L615.7 579.63 L616.7 578.72 L617.7 577.92 L618.7 577.24 L619.7 576.67 L620.7 576.2 L621.7 575.83 L622.7 575.56 L623.7 575.37 L624.7 575.26 L625.7 575.22 L626.7 575.25 L627.7 575.35 L628.7 575.51 L629.7 575.72 L630.7 575.97 L631.7 576.26 L632.7 576.59 L633.7 576.95 L634.7 577.33 L635.7 577.72 L636.7 578.13 L637.7 578.55 L638.7 578.96 L639.7 579.38 L640.7 579.79 L641.7 580.2 L642.7 580.62 L643.7 581.03 L644.7 581.44 L645.7 581.85 L646.7 582.27 L647.7 582.68 L648.7 583.1 L649.7 583.51 L650.7 583.93 L651.7 584.35 L652.7 584.77 L653.7 585.2 L654.7 585.62 L655.7 586.05 L656.7 586.48 L657.7 586.92 L658.7 587.36 L659.7 587.8 L660.7 588.24 L661.7 588.69 L662.7 589.13 L663.7 589.56 L664.7 589.97 L665.7 590.37 L666.7 590.75 L667.7 591.1 L668.7 591.42 L669.7 591.71 L670.7 591.96 L671.7 592.16 L672.7 592.32 L673.7 592.43 L674.7 592.48 L675 592.48" fill="none" stroke="#1c1c1c" stroke-width="1.5" stroke-linejoin="round"/>
<path d="M500.1 500 V559.1 M497.2 500 h5.8 M497.2 559.1 h5.8 M510.7 500 V573 M507.8 500 h5.8 M507.8 573 h5.8 M521.3 541.7 V583.5 M518.4 541.7 h5.8 M518.4 583.5 h5.8 M531.9 588.5 V621.4 M529 588.5 h5.8 M529 621.4 h5.8 M542.5 576.6 V600.2 M539.6 576.6 h5.8 M539.6 600.2 h5.8 M553.1 589.4 V606.1 M550.2 589.4 h5.8 M550.2 606.1 h5.8 M563.7 597.9 V609.9 M560.8 597.9 h5.8 M560.8 609.9 h5.8 M574.3 603.9 V613.6 M571.4 603.9 h5.8 M571.4 613.6 h5.8 M584.9 606.9 V612.4 M582 606.9 h5.8 M582 612.4 h5.8" stroke="#00bfbf" stroke-width="1.55" fill="none"/>
<g fill="#00bfbf"><circle cx="500.1" cy="500" r="3.4"/><circle cx="510.7" cy="544.7" r="3.4"/><circle cx="521.3" cy="562.6" r="3.4"/><circle cx="531.9" cy="605.4" r="3.4"/><circle cx="542.5" cy="587.9" r="3.4"/><circle cx="553.1" cy="597.9" r="3.4"/><circle cx="563.7" cy="603.9" r="3.4"/><circle cx="574.3" cy="608.7" r="3.4"/><circle cx="584.9" cy="609.6" r="3.4"/><circle cx="595.5" cy="603.2" r="3.4"/><circle cx="606.1" cy="590.5" r="3.4"/><circle cx="616.7" cy="577.5" r="3.4"/><circle cx="627.3" cy="575.6" r="3.4"/><circle cx="637.9" cy="579.7" r="3.4"/><circle cx="648.5" cy="582" r="3.4"/></g>
</g>
<rect x="494.6" y="541" width="174.2" height="116.3" fill="none" stroke="#858585" stroke-width="1.5"/>
<path d="M494.6 657.3 v-1.6 M500.97 657.3 v-1.6 M506.68 657.3 v-3 M544.19 657.3 v-1.6 M566.13 657.3 v-1.6 M581.7 657.3 v-1.6 M593.78 657.3 v-1.6 M603.64 657.3 v-1.6 M611.99 657.3 v-1.6 M619.21 657.3 v-1.6 M625.59 657.3 v-1.6 M631.29 657.3 v-3 M668.8 657.3 v-1.6 M494.6 599.15 h3.5" stroke="#333" stroke-width="1" fill="none"/>
<g transform="translate(506.68 669.7) scale(0.84 1)"><text class="tl" x="0" y="0" text-anchor="middle">10<tspan class="sup" dy="-4.5">-2</tspan></text></g>
<g transform="translate(631.29 669.7) scale(0.84 1)"><text class="tl" x="0" y="0" text-anchor="middle">10<tspan class="sup" dy="-4.5">-1</tspan></text></g>
<g transform="translate(483.6 542.5) rotate(-45) scale(0.85 1)"><text class="tl" x="0" y="3.5" text-anchor="middle">1</text></g>
<g transform="translate(483.6 600.65) rotate(-45) scale(0.85 1)"><text class="tl" x="0" y="3.5" text-anchor="middle">0</text></g>
<g transform="translate(482.4 660.2) rotate(-45) scale(0.85 1)"><text class="tl" x="0" y="3.5" text-anchor="middle">&#8211;1</text></g>
<text class="times" x="496.2" y="537.9">&#215;</text><text class="off" x="503.1" y="537.5" textLength="9.9" lengthAdjust="spacingAndGlyphs">10</text><text class="osup" x="514.3" y="532.4">4</text>
<text class="tz" x="537.3" y="535.8">z</text>
<text class="tm" x="542.6" y="537.6">m</text>
<text class="teq" x="554.1" y="536.2" textLength="7.6" lengthAdjust="spacingAndGlyphs">=</text>
<text class="tn" x="564.8" y="535.8" textLength="28.8" lengthAdjust="spacingAndGlyphs">1.05,</text>
<text class="tz" x="603" y="535.8">l</text>
<text class="teq" x="609.9" y="536.2" textLength="7.8" lengthAdjust="spacingAndGlyphs">=</text>
<text class="tn" x="620.3" y="535.8" textLength="6.8" lengthAdjust="spacingAndGlyphs">4</text>
<text class="xl" x="581.7" y="686.3" text-anchor="middle">k(h/Mpc)</text>
<g transform="translate(466.6 599.85) rotate(-90)"><text class="yl" x="-10.7" y="0" textLength="21.4" lengthAdjust="spacingAndGlyphs">P<tspan class="ysub" dy="1.8">4</tspan><tspan class="yp" dy="-1.8">(</tspan>k<tspan class="yp">)</tspan></text></g>
<clipPath id="c40"><rect x="40.5" y="716.3" width="174.9" height="116.3"/></clipPath>
<g clip-path="url(#c40)">
<path d="M40.7 736.38 L41.7 736.29 L42.7 736.2 L43.7 736.1 L44.7 735.99 L45.7 735.88 L46.7 735.77 L47.7 735.66 L48.7 735.54 L49.7 735.42 L50.7 735.3 L51.7 735.18 L52.7 735.06 L53.7 734.94 L54.7 734.82 L55.7 734.7 L56.7 734.59 L57.7 734.47 L58.7 734.36 L59.7 734.25 L60.7 734.15 L61.7 734.05 L62.7 733.96 L63.7 733.87 L64.7 733.79 L65.7 733.71 L66.7 733.64 L67.7 733.58 L68.7 733.53 L69.7 733.48 L70.7 733.45 L71.7 733.42 L72.7 733.41 L73.7 733.4 L74.7 733.41 L75.7 733.43 L76.7 733.46 L77.7 733.5 L78.7 733.56 L79.7 733.63 L80.7 733.72 L81.7 733.82 L82.7 733.93 L83.7 734.06 L84.7 734.21 L85.7 734.38 L86.7 734.56 L87.7 734.76 L88.7 734.98 L89.7 735.22 L90.7 735.47 L91.7 735.75 L92.7 736.05 L93.7 736.37 L94.7 736.71 L95.7 737.07 L96.7 737.46 L97.7 737.87 L98.7 738.3 L99.7 738.76 L100.7 739.24 L101.7 739.74 L102.7 740.27 L103.7 740.82 L104.7 741.39 L105.7 741.98 L106.7 742.59 L107.7 743.22 L108.7 743.86 L109.7 744.53 L110.7 745.21 L111.7 745.91 L112.7 746.63 L113.7 747.36 L114.7 748.11 L115.7 748.87 L116.7 749.65 L117.7 750.44 L118.7 751.24 L119.7 752.06 L120.7 752.88 L121.7 753.72 L122.7 754.56 L123.7 755.42 L124.7 756.28 L125.7 757.16 L126.7 758.04 L127.7 758.93 L128.7 759.82 L129.7 760.72 L130.7 761.63 L131.7 762.54 L132.7 763.45 L133.7 764.37 L134.7 765.3 L135.7 766.22 L136.7 767.15 L137.7 768.09 L138.7 769.03 L139.7 769.97 L140.7 770.91 L141.7 771.86 L142.7 772.81 L143.7 773.76 L144.7 774.71 L145.7 775.66 L146.7 776.62 L147.7 777.57 L148.7 778.53 L149.7 779.49 L150.7 780.45 L151.7 781.41 L152.7 782.37 L153.7 783.33 L154.7 784.31 L155.7 785.29 L156.7 786.3 L157.7 787.32 L158.7 788.38 L159.7 789.46 L160.7 790.59 L161.7 791.75 L162.7 792.96 L163.7 794.22 L164.7 795.52 L165.7 796.85 L166.7 798.21 L167.7 799.6 L168.7 801 L169.7 802.41 L170.7 803.83 L171.7 805.24 L172.7 806.64 L173.7 808.02 L174.7 809.39 L175.7 810.74 L176.7 812.07 L177.7 813.38 L178.7 814.68 L179.7 815.96 L180.7 817.23 L181.7 818.49 L182.7 819.73 L183.7 820.96 L184.7 822.17 L185.7 823.38 L186.7 824.58 L187.7 825.77 L188.7 826.94 L189.7 828.11 L190.7 829.28 L191.7 830.43 L192.7 831.58 L193.7 832.73 L194.7 833.87 L195.7 835.01 L196.7 836.14 L197.7 837.27 L198.7 838.41 L199.7 839.53 L200 839.87" fill="none" stroke="#1c1c1c" stroke-width="1.5" stroke-linejoin="round"/>
<path d="M46 728.6 V746.1 M43.1 728.6 h5.8 M43.1 746.1 h5.8 M56.6 739.4 V763.2 M53.7 739.4 h5.8 M53.7 763.2 h5.8 M67.2 730 V738.2 M64.3 730 h5.8 M64.3 738.2 h5.8 M77.8 728.9 V734.1 M74.9 728.9 h5.8 M74.9 734.1 h5.8 M173.2 819.2 V831.9 M170.3 819.2 h5.8 M170.3 831.9 h5.8 M183.8 820 V829.7 M180.9 820 h5.8 M180.9 829.7 h5.8 M194.4 826.7 V850 M191.5 826.7 h5.8 M191.5 850 h5.8" stroke="#00bfbf" stroke-width="1.55" fill="none"/>
<g fill="#00bfbf"><circle cx="46" cy="735.6" r="3.4"/><circle cx="56.6" cy="749.1" r="3.4"/><circle cx="67.2" cy="733.4" r="3.4"/><circle cx="77.8" cy="731.9" r="3.4"/><circle cx="88.4" cy="731.9" r="3.4"/><circle cx="99" cy="740.1" r="3.4"/><circle cx="109.6" cy="744.6" r="3.4"/><circle cx="120.2" cy="755" r="3.4"/><circle cx="130.8" cy="761.7" r="3.4"/><circle cx="141.4" cy="771.9" r="3.4"/><circle cx="152" cy="782.3" r="3.4"/><circle cx="162.6" cy="793.5" r="3.4"/><circle cx="173.2" cy="824.7" r="3.4"/><circle cx="183.8" cy="824.7" r="3.4"/><circle cx="194.4" cy="830.4" r="3.4"/></g>
</g>
<rect x="40.5" y="716.3" width="174.9" height="116.3" fill="none" stroke="#858585" stroke-width="1.5"/>
<path d="M40.5 832.6 v-1.6 M46.9 832.6 v-1.6 M52.62 832.6 v-3 M90.29 832.6 v-1.6 M112.32 832.6 v-1.6 M127.95 832.6 v-1.6 M140.07 832.6 v-1.6 M149.98 832.6 v-1.6 M158.36 832.6 v-1.6 M165.61 832.6 v-1.6 M172.01 832.6 v-1.6 M177.74 832.6 v-3 M215.4 832.6 v-1.6 M40.5 832.6 h3 M40.5 815.1 h1.6 M40.5 804.86 h1.6 M40.5 797.59 h1.6 M40.5 791.95 h1.6 M40.5 787.35 h1.6 M40.5 783.46 h1.6 M40.5 780.09 h1.6 M40.5 777.11 h1.6 M40.5 774.45 h3 M40.5 756.95 h1.6 M40.5 746.71 h1.6 M40.5 739.44 h1.6 M40.5 733.8 h1.6 M40.5 729.2 h1.6 M40.5 725.31 h1.6 M40.5 721.94 h1.6 M40.5 718.96 h1.6" stroke="#333" stroke-width="1" fill="none"/>
<g transform="translate(52.62 845) scale(0.84 1)"><text class="tl" x="0" y="0" text-anchor="middle">10<tspan class="sup" dy="-4.5">-2</tspan></text></g>
<g transform="translate(177.74 845) scale(0.84 1)"><text class="tl" x="0" y="0" text-anchor="middle">10<tspan class="sup" dy="-4.5">-1</tspan></text></g>
<g transform="translate(25.7 720.9) rotate(-45) scale(0.9 1.06)"><text class="tl" x="0" y="3.5" text-anchor="middle">10<tspan class="sup" dy="-4.5">5</tspan></text></g>
<g transform="translate(25.7 779.05) rotate(-45) scale(0.9 1.06)"><text class="tl" x="0" y="3.5" text-anchor="middle">10<tspan class="sup" dy="-4.5">4</tspan></text></g>
<g transform="translate(25.7 837.2) rotate(-45) scale(0.9 1.06)"><text class="tl" x="0" y="3.5" text-anchor="middle">10<tspan class="sup" dy="-4.5">3</tspan></text></g>
<text class="tz" x="83.55" y="711.1">z</text>
<text class="tm" x="88.85" y="712.9">m</text>
<text class="teq" x="100.35" y="711.5" textLength="7.6" lengthAdjust="spacingAndGlyphs">=</text>
<text class="tn" x="111.05" y="711.1" textLength="28.8" lengthAdjust="spacingAndGlyphs">1.35,</text>
<text class="tz" x="149.25" y="711.1">l</text>
<text class="teq" x="156.15" y="711.5" textLength="7.8" lengthAdjust="spacingAndGlyphs">=</text>
<text class="tn" x="166.55" y="711.1" textLength="6.8" lengthAdjust="spacingAndGlyphs">0</text>
<text class="xl" x="127.95" y="861.6" text-anchor="middle">k(h/Mpc)</text>
<g transform="translate(9 775.15) rotate(-90)"><text class="yl" x="-10.7" y="0" textLength="21.4" lengthAdjust="spacingAndGlyphs">P<tspan class="ysub" dy="1.8">0</tspan><tspan class="yp" dy="-1.8">(</tspan>k<tspan class="yp">)</tspan></text></g>
<clipPath id="c41"><rect x="267.7" y="716.3" width="174.4" height="116.3"/></clipPath>
<g clip-path="url(#c41)">
<path d="M267.7 756.31 L268.7 755.98 L269.7 755.67 L270.7 755.38 L271.7 755.11 L272.7 754.86 L273.7 754.63 L274.7 754.42 L275.7 754.24 L276.7 754.08 L277.7 753.95 L278.7 753.83 L279.7 753.75 L280.7 753.68 L281.7 753.64 L282.7 753.63 L283.7 753.64 L284.7 753.68 L285.7 753.74 L286.7 753.83 L287.7 753.95 L288.7 754.1 L289.7 754.27 L290.7 754.47 L291.7 754.7 L292.7 754.96 L293.7 755.25 L294.7 755.57 L295.7 755.92 L296.7 756.3 L297.7 756.71 L298.7 757.15 L299.7 757.63 L300.7 758.14 L301.7 758.68 L302.7 759.25 L303.7 759.85 L304.7 760.49 L305.7 761.17 L306.7 761.88 L307.7 762.62 L308.7 763.4 L309.7 764.21 L310.7 765.07 L311.7 765.95 L312.7 766.88 L313.7 767.84 L314.7 768.84 L315.7 769.88 L316.7 770.95 L317.7 772.06 L318.7 773.2 L319.7 774.37 L320.7 775.57 L321.7 776.78 L322.7 778.02 L323.7 779.28 L324.7 780.55 L325.7 781.83 L326.7 783.12 L327.7 784.42 L328.7 785.72 L329.7 787.02 L330.7 788.32 L331.7 789.61 L332.7 790.9 L333.7 792.18 L334.7 793.44 L335.7 794.68 L336.7 795.91 L337.7 797.11 L338.7 798.29 L339.7 799.45 L340.7 800.58 L341.7 801.69 L342.7 802.78 L343.7 803.83 L344.7 804.86 L345.7 805.86 L346.7 806.83 L347.7 807.77 L348.7 808.68 L349.7 809.56 L350.7 810.41 L351.7 811.22 L352.7 812 L353.7 812.74 L354.7 813.45 L355.7 814.12 L356.7 814.76 L357.7 815.35 L358.7 815.91 L359.7 816.43 L360.7 816.91 L361.7 817.35 L362.7 817.76 L363.7 818.13 L364.7 818.46 L365.7 818.76 L366.7 819.02 L367.7 819.25 L368.7 819.45 L369.7 819.61 L370.7 819.74 L371.7 819.84 L372.7 819.91 L373.7 819.95 L374.7 819.96 L375.7 819.94 L376.7 819.89 L377.7 819.81 L378.7 819.7 L379.7 819.57 L380.7 819.41 L381.7 819.23 L382.7 819.03 L383.7 818.8 L384.7 818.56 L385.7 818.3 L386.7 818.02 L387.7 817.73 L388.7 817.43 L389.7 817.12 L390.7 816.8 L391.7 816.47 L392.7 816.14 L393.7 815.8 L394.7 815.46 L395.7 815.13 L396.7 814.79 L397.7 814.46 L398.7 814.13 L399.7 813.81 L400.7 813.5 L401.7 813.2 L402.7 812.9 L403.7 812.62 L404.7 812.34 L405.7 812.08 L406.7 811.82 L407.7 811.58 L408.7 811.34 L409.7 811.11 L410.7 810.88 L411.7 810.67 L412.7 810.46 L413.7 810.27 L414.7 810.07 L415.7 809.89 L416.7 809.72 L417.7 809.55 L418.7 809.39 L419.7 809.23 L420.7 809.08 L421.7 808.94 L422.7 808.81 L423.7 808.68 L424.7 808.56 L425.7 808.44 L426.7 808.33 L427.7 808.23 L428.7 808.13 L429.7 808.03 L430.7 807.94 L431.7 807.86 L432.7 807.78 L433.7 807.71 L434.7 807.64 L435.7 807.57 L436.7 807.51 L437.7 807.46 L438.7 807.4 L439.7 807.35 L440.7 807.31 L441.7 807.27 L442.7 807.23 L443.7 807.2 L444.7 807.16 L445.7 807.13 L446.7 807.11 L447.7 807.08 L448.7 807.06 L449.7 807.04 L450 807.04" fill="none" stroke="#1c1c1c" stroke-width="1.5" stroke-linejoin="round"/>
<path d="M273.2 700 V749.5 M270.3 700 h5.8 M270.3 749.5 h5.8 M283.8 746.5 V774.9 M280.9 746.5 h5.8 M280.9 774.9 h5.8 M294.4 751 V771.4 M291.5 751 h5.8 M291.5 771.4 h5.8 M305 755.8 V772.2 M302.1 755.8 h5.8 M302.1 772.2 h5.8 M315.6 772.5 V783.7 M312.7 772.5 h5.8 M312.7 783.7 h5.8" stroke="#00bfbf" stroke-width="1.55" fill="none"/>
<g fill="#00bfbf"><circle cx="273.2" cy="729.7" r="3.4"/><circle cx="283.8" cy="760.6" r="3.4"/><circle cx="294.4" cy="761.4" r="3.4"/><circle cx="305" cy="764" r="3.4"/><circle cx="315.6" cy="778.5" r="3.4"/><circle cx="326.2" cy="785.6" r="3.4"/><circle cx="336.8" cy="796.8" r="3.4"/><circle cx="347.4" cy="805.8" r="3.4"/><circle cx="358" cy="814.5" r="3.4"/><circle cx="368.6" cy="819.2" r="3.4"/><circle cx="379.2" cy="820.3" r="3.4"/><circle cx="389.8" cy="817.7" r="3.4"/><circle cx="400.4" cy="814" r="3.4"/><circle cx="411" cy="810.7" r="3.4"/><circle cx="421.6" cy="809.5" r="3.4"/></g>
</g>
<rect x="267.7" y="716.3" width="174.4" height="116.3" fill="none" stroke="#858585" stroke-width="1.5"/>
<path d="M267.7 832.6 v-1.6 M274.08 832.6 v-1.6 M279.79 832.6 v-3 M317.35 832.6 v-1.6 M339.31 832.6 v-1.6 M354.9 832.6 v-1.6 M366.99 832.6 v-1.6 M376.87 832.6 v-1.6 M385.22 832.6 v-1.6 M392.45 832.6 v-1.6 M398.84 832.6 v-1.6 M404.55 832.6 v-3 M442.1 832.6 v-1.6 M267.7 806.76 h3.5 M267.7 742.14 h3.5" stroke="#333" stroke-width="1" fill="none"/>
<g transform="translate(279.79 845) scale(0.84 1)"><text class="tl" x="0" y="0" text-anchor="middle">10<tspan class="sup" dy="-4.5">-2</tspan></text></g>
<g transform="translate(404.55 845) scale(0.84 1)"><text class="tl" x="0" y="0" text-anchor="middle">10<tspan class="sup" dy="-4.5">-1</tspan></text></g>
<g transform="translate(256.7 808.26) rotate(-45) scale(0.85 1)"><text class="tl" x="0" y="3.5" text-anchor="middle">0</text></g>
<g transform="translate(256.7 743.64) rotate(-45) scale(0.85 1)"><text class="tl" x="0" y="3.5" text-anchor="middle">5</text></g>
<text class="times" x="269.3" y="713.2">&#215;</text><text class="off" x="276.2" y="712.8" textLength="9.9" lengthAdjust="spacingAndGlyphs">10</text><text class="osup" x="287.4" y="707.7">4</text>
<text class="tz" x="310.5" y="711.1">z</text>
<text class="tm" x="315.8" y="712.9">m</text>
<text class="teq" x="327.3" y="711.5" textLength="7.6" lengthAdjust="spacingAndGlyphs">=</text>
<text class="tn" x="338" y="711.1" textLength="28.8" lengthAdjust="spacingAndGlyphs">1.35,</text>
<text class="tz" x="376.2" y="711.1">l</text>
<text class="teq" x="383.1" y="711.5" textLength="7.8" lengthAdjust="spacingAndGlyphs">=</text>
<text class="tn" x="393.5" y="711.1" textLength="6.8" lengthAdjust="spacingAndGlyphs">2</text>
<text class="xl" x="354.9" y="861.6" text-anchor="middle">k(h/Mpc)</text>
<g transform="translate(243.8 775.15) rotate(-90)"><text class="yl" x="-10.7" y="0" textLength="21.4" lengthAdjust="spacingAndGlyphs">P<tspan class="ysub" dy="1.8">2</tspan><tspan class="yp" dy="-1.8">(</tspan>k<tspan class="yp">)</tspan></text></g>
<clipPath id="c42"><rect x="494.6" y="716.3" width="174.2" height="116.3"/></clipPath>
<g clip-path="url(#c42)">
<path d="M494.7 753.23 L495.7 753.17 L496.7 753.14 L497.7 753.15 L498.7 753.18 L499.7 753.25 L500.7 753.35 L501.7 753.48 L502.7 753.63 L503.7 753.82 L504.7 754.04 L505.7 754.28 L506.7 754.56 L507.7 754.86 L508.7 755.18 L509.7 755.53 L510.7 755.91 L511.7 756.31 L512.7 756.73 L513.7 757.18 L514.7 757.65 L515.7 758.14 L516.7 758.66 L517.7 759.19 L518.7 759.75 L519.7 760.33 L520.7 760.92 L521.7 761.53 L522.7 762.16 L523.7 762.81 L524.7 763.48 L525.7 764.16 L526.7 764.86 L527.7 765.57 L528.7 766.3 L529.7 767.04 L530.7 767.79 L531.7 768.56 L532.7 769.34 L533.7 770.13 L534.7 770.93 L535.7 771.74 L536.7 772.56 L537.7 773.39 L538.7 774.23 L539.7 775.08 L540.7 775.93 L541.7 776.79 L542.7 777.66 L543.7 778.53 L544.7 779.41 L545.7 780.28 L546.7 781.14 L547.7 782 L548.7 782.84 L549.7 783.66 L550.7 784.46 L551.7 785.23 L552.7 785.97 L553.7 786.68 L554.7 787.35 L555.7 787.98 L556.7 788.56 L557.7 789.09 L558.7 789.56 L559.7 789.98 L560.7 790.34 L561.7 790.62 L562.7 790.84 L563.7 790.99 L564.7 791.05 L565.7 791.04 L566.7 790.95 L567.7 790.79 L568.7 790.55 L569.7 790.23 L570.7 789.84 L571.7 789.37 L572.7 788.83 L573.7 788.22 L574.7 787.53 L575.7 786.76 L576.7 785.93 L577.7 785.02 L578.7 784.04 L579.7 782.99 L580.7 781.87 L581.7 780.68 L582.7 779.41 L583.7 778.08 L584.7 776.68 L585.7 775.21 L586.7 773.68 L587.7 772.1 L588.7 770.48 L589.7 768.83 L590.7 767.15 L591.7 765.47 L592.7 763.78 L593.7 762.1 L594.7 760.43 L595.7 758.79 L596.7 757.19 L597.7 755.63 L598.7 754.11 L599.7 752.65 L600.7 751.25 L601.7 749.91 L602.7 748.65 L603.7 747.47 L604.7 746.36 L605.7 745.36 L606.7 744.44 L607.7 743.63 L608.7 742.91 L609.7 742.29 L610.7 741.76 L611.7 741.33 L612.7 740.99 L613.7 740.74 L614.7 740.58 L615.7 740.51 L616.7 740.53 L617.7 740.63 L618.7 740.82 L619.7 741.08 L620.7 741.41 L621.7 741.81 L622.7 742.26 L623.7 742.78 L624.7 743.34 L625.7 743.95 L626.7 744.59 L627.7 745.28 L628.7 745.99 L629.7 746.72 L630.7 747.48 L631.7 748.25 L632.7 749.02 L633.7 749.8 L634.7 750.58 L635.7 751.36 L636.7 752.12 L637.7 752.86 L638.7 753.58 L639.7 754.28 L640.7 754.95 L641.7 755.61 L642.7 756.24 L643.7 756.85 L644.7 757.45 L645.7 758.02 L646.7 758.58 L647.7 759.12 L648.7 759.64 L649.7 760.15 L650.7 760.64 L651.7 761.11 L652.7 761.57 L653.7 762.02 L654.7 762.46 L655.7 762.88 L656.7 763.3 L657.7 763.7 L658.7 764.09 L659.7 764.47 L660.7 764.84 L661.7 765.21 L662.7 765.56 L663.7 765.9 L664.7 766.23 L665.7 766.54 L666.7 766.84 L667.7 767.12 L668.7 767.38 L669.7 767.63 L670.7 767.85 L671.7 768.05 L672.7 768.24 L673.7 768.39 L674.7 768.53 L675 768.56" fill="none" stroke="#1c1c1c" stroke-width="1.5" stroke-linejoin="round"/>
<path d="M500.1 680 V777.9 M497.2 680 h5.8 M497.2 777.9 h5.8 M510.7 780.9 V900 M507.8 780.9 h5.8 M507.8 900 h5.8 M521.3 680 V720.7 M518.4 680 h5.8 M518.4 720.7 h5.8 M531.9 732.2 V787.4 M529 732.2 h5.8 M529 787.4 h5.8 M542.5 757.6 V797.3 M539.6 757.6 h5.8 M539.6 797.3 h5.8 M553.1 784.9 V814 M550.2 784.9 h5.8 M550.2 814 h5.8 M563.7 776.4 V797.3 M560.8 776.4 h5.8 M560.8 797.3 h5.8 M574.3 776.4 V793.4 M571.4 776.4 h5.8 M571.4 793.4 h5.8 M584.9 775.5 V787.9 M582 775.5 h5.8 M582 787.9 h5.8 M595.5 749.5 V759.1 M592.6 749.5 h5.8 M592.6 759.1 h5.8" stroke="#00bfbf" stroke-width="1.55" fill="none"/>
<g fill="#00bfbf"><circle cx="500.1" cy="680" r="3.4"/><circle cx="510.7" cy="830.4" r="3.4"/><circle cx="521.3" cy="680" r="3.4"/><circle cx="531.9" cy="759.5" r="3.4"/><circle cx="542.5" cy="776.7" r="3.4"/><circle cx="553.1" cy="799.8" r="3.4"/><circle cx="563.7" cy="786.8" r="3.4"/><circle cx="574.3" cy="784.6" r="3.4"/><circle cx="584.9" cy="782.3" r="3.4"/><circle cx="595.5" cy="754.6" r="3.4"/><circle cx="606.1" cy="743.8" r="3.4"/><circle cx="616.7" cy="742.3" r="3.4"/><circle cx="627.3" cy="746.1" r="3.4"/><circle cx="637.9" cy="754.3" r="3.4"/><circle cx="648.5" cy="758" r="3.4"/></g>
</g>
<rect x="494.6" y="716.3" width="174.2" height="116.3" fill="none" stroke="#858585" stroke-width="1.5"/>
<path d="M494.6 832.6 v-1.6 M500.97 832.6 v-1.6 M506.68 832.6 v-3 M544.19 832.6 v-1.6 M566.13 832.6 v-1.6 M581.7 832.6 v-1.6 M593.78 832.6 v-1.6 M603.64 832.6 v-1.6 M611.99 832.6 v-1.6 M619.21 832.6 v-1.6 M625.59 832.6 v-1.6 M631.29 832.6 v-3 M668.8 832.6 v-1.6 M494.6 774.45 h3.5" stroke="#333" stroke-width="1" fill="none"/>
<g transform="translate(506.68 845) scale(0.84 1)"><text class="tl" x="0" y="0" text-anchor="middle">10<tspan class="sup" dy="-4.5">-2</tspan></text></g>
<g transform="translate(631.29 845) scale(0.84 1)"><text class="tl" x="0" y="0" text-anchor="middle">10<tspan class="sup" dy="-4.5">-1</tspan></text></g>
<g transform="translate(483.6 717.8) rotate(-45) scale(0.85 1)"><text class="tl" x="0" y="3.5" text-anchor="middle">1</text></g>
<g transform="translate(483.6 775.95) rotate(-45) scale(0.85 1)"><text class="tl" x="0" y="3.5" text-anchor="middle">0</text></g>
<g transform="translate(482.4 835.5) rotate(-45) scale(0.85 1)"><text class="tl" x="0" y="3.5" text-anchor="middle">&#8211;1</text></g>
<text class="times" x="496.2" y="713.2">&#215;</text><text class="off" x="503.1" y="712.8" textLength="9.9" lengthAdjust="spacingAndGlyphs">10</text><text class="osup" x="514.3" y="707.7">4</text>
<text class="tz" x="537.3" y="711.1">z</text>
<text class="tm" x="542.6" y="712.9">m</text>
<text class="teq" x="554.1" y="711.5" textLength="7.6" lengthAdjust="spacingAndGlyphs">=</text>
<text class="tn" x="564.8" y="711.1" textLength="28.8" lengthAdjust="spacingAndGlyphs">1.35,</text>
<text class="tz" x="603" y="711.1">l</text>
<text class="teq" x="609.9" y="711.5" textLength="7.8" lengthAdjust="spacingAndGlyphs">=</text>
<text class="tn" x="620.3" y="711.1" textLength="6.8" lengthAdjust="spacingAndGlyphs">4</text>
<text class="xl" x="581.7" y="861.6" text-anchor="middle">k(h/Mpc)</text>
<g transform="translate(466.6 775.15) rotate(-90)"><text class="yl" x="-10.7" y="0" textLength="21.4" lengthAdjust="spacingAndGlyphs">P<tspan class="ysub" dy="1.8">4</tspan><tspan class="yp" dy="-1.8">(</tspan>k<tspan class="yp">)</tspan></text></g>
</svg></body></html>
